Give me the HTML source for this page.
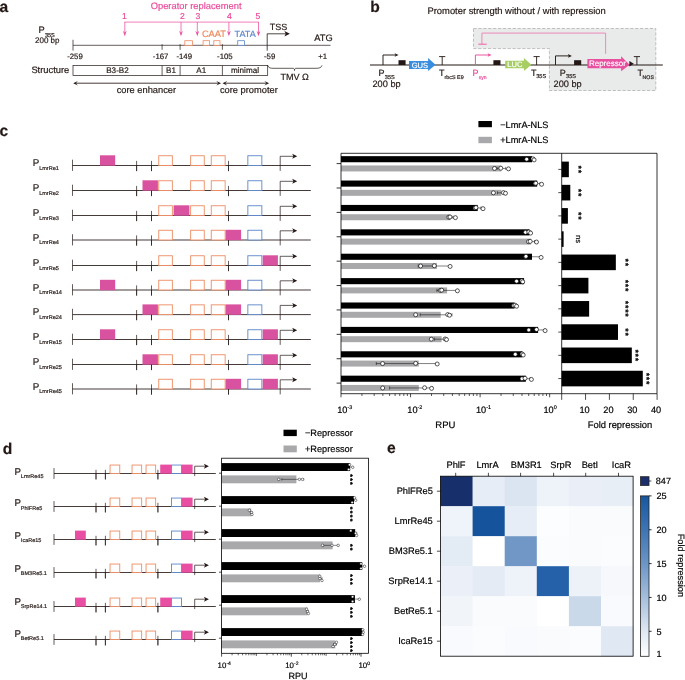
<!DOCTYPE html>
<html lang="en"><head><meta charset="utf-8"><title>Figure</title>
<style>html,body{margin:0;padding:0;background:#fff}svg{display:block}text{font-family:"Liberation Sans",Arial,Helvetica,sans-serif;text-rendering:geometricPrecision;fill:currentColor;stroke:currentColor;stroke-width:.18px}</style></head>
<body>
<svg width="685" height="680" viewBox="0 0 685 680">
<rect width="685" height="680" fill="#fff"/>
<text x="370.2" y="11.8" font-size="15.6" color="#231815" text-anchor="start" font-weight="bold" >b</text>
<text x="516.6" y="14" font-size="9.38" color="#231815" text-anchor="middle" font-weight="normal" >Promoter strength without / with repression</text>
<path d="M473.5 28.5H655.8V90.5H549.4V48.6H473.5Z" stroke="#9a9a9a" stroke-width="0.6" fill="#e9eaea" stroke-dasharray="3.2 1.7"/>
<line x1="370" y1="65" x2="662.8" y2="65" stroke="#231815" stroke-width="1.05" />
<path d="M481.9 44.2V33.1H605.6V53.8" stroke="#ee7fb6" stroke-width="0.9" fill="none" />
<line x1="478.3" y1="44.2" x2="486.7" y2="44.2" stroke="#ee5fa8" stroke-width="1.0" />
<path d="M383 65V55H396.2" stroke="#231815" stroke-width="0.95" fill="none" />
<polygon points="398.6,55 394.6,53.2 395.6,55 394.6,56.8" fill="#231815" stroke="none" stroke-width="0.5"/>
<path d="M475.4 65V55H489.2" stroke="#ea4c9c" stroke-width="0.95" fill="none" />
<polygon points="491.6,55 487.6,53.2 488.6,55 487.6,56.8" fill="#ea4c9c" stroke="none" stroke-width="0.5"/>
<path d="M555.5 65V55.9H569.5" stroke="#231815" stroke-width="0.95" fill="none" />
<polygon points="571.9,55.9 567.9,54.1 568.9,55.9 567.9,57.7" fill="#231815" stroke="none" stroke-width="0.5"/>
<rect x="398.5" y="60.2" width="7.1" height="4.8" fill="#231815" stroke="none" stroke-width="0.7" />
<rect x="493.4" y="60.2" width="7.1" height="4.8" fill="#231815" stroke="none" stroke-width="0.7" />
<rect x="574.1" y="60.2" width="7.1" height="4.8" fill="#231815" stroke="none" stroke-width="0.7" />
<polygon points="409,61.1 428.1,61.1 428.1,58 435.5,64.7 428.1,71 428.1,68.9 409,68.9" fill="#3a8ee0" stroke="none" stroke-width="0.5"/>
<text x="419.9" y="67.62" font-size="7.6" color="#fff" text-anchor="middle" font-weight="normal" >GUS</text>
<polygon points="505.2,60.7 523.9,60.7 523.9,58.1 531.4,64.7 523.9,70.9 523.9,68.3 505.2,68.3" fill="#a6ce62" stroke="none" stroke-width="0.5"/>
<text x="514.9" y="67.12" font-size="7.6" color="#fff" text-anchor="middle" font-weight="normal" >LUC</text>
<polygon points="587.4,58.9 621.1,58.9 621.1,56.3 629.6,64.7 621.1,71.2 621.1,68.3 587.4,68.3" fill="#e84f9f" stroke="none" stroke-width="0.5"/>
<text x="607.4" y="66.36" font-size="8.0" color="#fff" text-anchor="middle" font-weight="normal" >Repressor</text>
<polygon points="629.4,61 633.8,63.7 629.4,66.4" fill="#231815" stroke="none" stroke-width="0.5"/>
<line x1="442.2" y1="65" x2="442.2" y2="56.6" stroke="#231815" stroke-width="0.9" />
<line x1="439.1" y1="56.6" x2="445.3" y2="56.6" stroke="#231815" stroke-width="0.9" />
<line x1="536.6" y1="65" x2="536.6" y2="56.6" stroke="#231815" stroke-width="0.9" />
<line x1="533.5" y1="56.6" x2="539.7" y2="56.6" stroke="#231815" stroke-width="0.9" />
<line x1="636.9" y1="65" x2="636.9" y2="56.6" stroke="#231815" stroke-width="0.9" />
<line x1="633.8" y1="56.6" x2="640" y2="56.6" stroke="#231815" stroke-width="0.9" />
<text x="378.6" y="75.7" font-size="9.0" color="#231815">P<tspan font-size="5.6" dx="0.2" dy="2.8">35S</tspan></text>
<text x="372.5" y="86.8" font-size="9.2" color="#231815" text-anchor="start" font-weight="normal" >200 bp</text>
<text x="439" y="75.9" font-size="9.0" color="#231815">T<tspan font-size="5.4" dx="0.0" dy="2.8">rbcS E9</tspan></text>
<text x="472.6" y="75.7" font-size="9.0" color="#ea4c9c">P<tspan font-size="5.0" dx="0.2" dy="2.8">syn</tspan></text>
<text x="531" y="75.7" font-size="9.0" color="#231815">T<tspan font-size="5.6" dx="-0.3" dy="2.6">35S</tspan></text>
<text x="559.8" y="75.7" font-size="9.0" color="#231815">P<tspan font-size="5.6" dx="0.2" dy="2.6">35S</tspan></text>
<text x="553.6" y="86.9" font-size="9.2" color="#231815" text-anchor="start" font-weight="normal" >200 bp</text>
<text x="637.5" y="75.7" font-size="9.0" color="#231815">T<tspan font-size="5.2" dx="-0.4" dy="2.9">NOS</tspan></text>
<text x="-0.4" y="11.8" font-size="15.6" color="#231815" text-anchor="start" font-weight="bold" >a</text>
<text x="150.7" y="8.6" font-size="9.35" color="#ea4c9c" text-anchor="start" font-weight="normal" >Operator replacement</text>
<line x1="124.8" y1="22.1" x2="258.5" y2="22.1" stroke="#ea4c9c" stroke-width="0.7" />
<line x1="124.8" y1="21.75" x2="124.8" y2="33.45" stroke="#ea4c9c" stroke-width="0.75" />
<polygon points="124.8,36.2 122.9,30.7 124.8,32.79 126.7,30.7" fill="#ea4c9c" stroke="none" stroke-width="0.5"/>
<line x1="181" y1="22.1" x2="181" y2="33.45" stroke="#ea4c9c" stroke-width="0.75" />
<polygon points="181,36.2 179.1,30.7 181,32.79 182.9,30.7" fill="#ea4c9c" stroke="none" stroke-width="0.5"/>
<line x1="197.3" y1="22.1" x2="197.3" y2="33.45" stroke="#ea4c9c" stroke-width="0.75" />
<polygon points="197.3,36.2 195.4,30.7 197.3,32.79 199.2,30.7" fill="#ea4c9c" stroke="none" stroke-width="0.5"/>
<line x1="228.9" y1="22.1" x2="228.9" y2="33.45" stroke="#ea4c9c" stroke-width="0.75" />
<polygon points="228.9,36.2 227,30.7 228.9,32.79 230.8,30.7" fill="#ea4c9c" stroke="none" stroke-width="0.5"/>
<line x1="258.5" y1="21.75" x2="258.5" y2="33.45" stroke="#ea4c9c" stroke-width="0.75" />
<polygon points="258.5,36.2 256.6,30.7 258.5,32.79 260.4,30.7" fill="#ea4c9c" stroke="none" stroke-width="0.5"/>
<text x="124.3" y="19.3" font-size="8.6" color="#ea4c9c" text-anchor="middle" font-weight="normal" >1</text>
<text x="182.4" y="19.3" font-size="8.6" color="#ea4c9c" text-anchor="middle" font-weight="normal" >2</text>
<text x="197.9" y="19.3" font-size="8.6" color="#ea4c9c" text-anchor="middle" font-weight="normal" >3</text>
<text x="229.5" y="19.3" font-size="8.6" color="#ea4c9c" text-anchor="middle" font-weight="normal" >4</text>
<text x="257.9" y="19.3" font-size="8.6" color="#ea4c9c" text-anchor="middle" font-weight="normal" >5</text>
<text x="38.5" y="32.9" font-size="9.3" color="#231815">P<tspan font-size="5.6" dx="0.2" dy="3.9">35S</tspan></text>
<text x="35" y="42.6" font-size="8.0" color="#231815" text-anchor="start" font-weight="normal" >200 bp</text>
<line x1="73" y1="45.3" x2="330.5" y2="45.3" stroke="#231815" stroke-width="0.7" />
<line x1="73" y1="39.8" x2="73" y2="50.6" stroke="#231815" stroke-width="0.7" />
<line x1="162.1" y1="44.2" x2="162.1" y2="49.8" stroke="#231815" stroke-width="0.7" />
<line x1="180.1" y1="44.2" x2="180.1" y2="49.8" stroke="#231815" stroke-width="0.7" />
<line x1="222.4" y1="44.2" x2="222.4" y2="49.8" stroke="#231815" stroke-width="0.7" />
<rect x="184.8" y="40.7" width="7.6" height="4.6" fill="#fff" stroke="#ee8c62" stroke-width="0.8" />
<rect x="203.1" y="40.7" width="6.5" height="4.6" fill="#fff" stroke="#ee8c62" stroke-width="0.8" />
<rect x="213.8" y="40.7" width="6.2" height="4.6" fill="#fff" stroke="#ee8c62" stroke-width="0.8" />
<rect x="237.7" y="40.7" width="6.9" height="4.6" fill="#fff" stroke="#5b86c9" stroke-width="0.8" />
<text x="201.9" y="36.5" font-size="9.3" color="#ee8c62" text-anchor="start" font-weight="normal" >CAAT</text>
<text x="234.5" y="36.5" font-size="9.1" color="#5b86c9" text-anchor="start" font-weight="normal" >TATA</text>
<path d="M267.2 50.7V33.8H286.6" stroke="#231815" stroke-width="0.8" fill="none" />
<polygon points="289.9,33.8 284.4,31.1 285.77,33.8 284.4,36.5" fill="#231815" stroke="none" stroke-width="0.5"/>
<text x="269.8" y="30.4" font-size="9.0" color="#231815" text-anchor="start" font-weight="normal" >TSS</text>
<text x="314.3" y="40.9" font-size="9.3" color="#231815" text-anchor="start" font-weight="normal" >ATG</text>
<text x="75" y="59" font-size="7.8" color="#231815" text-anchor="middle" font-weight="normal" >-259</text>
<text x="160.6" y="59" font-size="7.8" color="#231815" text-anchor="middle" font-weight="normal" >-167</text>
<text x="184.2" y="59" font-size="7.8" color="#231815" text-anchor="middle" font-weight="normal" >-149</text>
<text x="224.9" y="59" font-size="7.8" color="#231815" text-anchor="middle" font-weight="normal" >-105</text>
<text x="269.6" y="59" font-size="7.8" color="#231815" text-anchor="middle" font-weight="normal" >-59</text>
<text x="322.6" y="59" font-size="7.8" color="#231815" text-anchor="middle" font-weight="normal" >+1</text>
<text x="31.4" y="73.3" font-size="9.35" color="#231815" text-anchor="start" font-weight="normal" >Structure</text>
<rect x="73" y="65.6" width="194.7" height="9.9" fill="#fff" stroke="#231815" stroke-width="0.7" />
<line x1="162.1" y1="65.6" x2="162.1" y2="75.5" stroke="#231815" stroke-width="0.7" />
<line x1="180.1" y1="65.6" x2="180.1" y2="75.5" stroke="#231815" stroke-width="0.7" />
<line x1="222.4" y1="65.6" x2="222.4" y2="75.5" stroke="#231815" stroke-width="0.7" />
<text x="117.5" y="73.2" font-size="8.15" color="#231815" text-anchor="middle" font-weight="normal" >B3-B2</text>
<text x="171.1" y="73.2" font-size="8.15" color="#231815" text-anchor="middle" font-weight="normal" >B1</text>
<text x="201.2" y="73.2" font-size="8.15" color="#231815" text-anchor="middle" font-weight="normal" >A1</text>
<text x="245" y="73.2" font-size="8.15" color="#231815" text-anchor="middle" font-weight="normal" >minimal</text>
<line x1="75.55" y1="83.2" x2="218.65" y2="83.2" stroke="#231815" stroke-width="0.85" />
<polygon points="221,83.2 216.3,81 218.41,83.2 216.3,85.4" fill="#231815" stroke="none" stroke-width="0.5"/>
<polygon points="73.2,83.2 77.9,81 75.78,83.2 77.9,85.4" fill="#231815" stroke="none" stroke-width="0.5"/>
<line x1="224.85" y1="83.2" x2="266.75" y2="83.2" stroke="#231815" stroke-width="0.85" />
<polygon points="269.1,83.2 264.4,81 266.52,83.2 264.4,85.4" fill="#231815" stroke="none" stroke-width="0.5"/>
<polygon points="222.5,83.2 227.2,81 225.09,83.2 227.2,85.4" fill="#231815" stroke="none" stroke-width="0.5"/>
<text x="116.7" y="92.5" font-size="9.3" color="#231815" text-anchor="start" font-weight="normal" >core enhancer</text>
<text x="219.9" y="92.5" font-size="9.3" color="#231815" text-anchor="start" font-weight="normal" >core promoter</text>
<path d="M267.7 65.4C268.6 68.3 271 68.3 274 68.3H293C294 68.3 294.5 69 294.5 70.5C294.5 69 295 68.3 296 68.3H316C319.5 68.3 321.3 67.6 322 65.4" stroke="#231815" stroke-width="0.7" fill="none" />
<text x="280.4" y="80.4" font-size="9.1" color="#231815" text-anchor="start" font-weight="normal" >TMV Ω</text>
<text x="-0.4" y="136.3" font-size="15.6" color="#231815" text-anchor="start" font-weight="bold" >c</text>
<line x1="72.5" y1="165.5" x2="310.8" y2="165.5" stroke="#231815" stroke-width="0.85" />
<line x1="72.5" y1="159.7" x2="72.5" y2="170.9" stroke="#231815" stroke-width="0.7" />
<line x1="136.6" y1="160.9" x2="136.6" y2="171.1" stroke="#231815" stroke-width="0.7" />
<line x1="151.5" y1="160.9" x2="151.5" y2="171.1" stroke="#231815" stroke-width="0.7" />
<line x1="228.5" y1="160.9" x2="228.5" y2="171.1" stroke="#231815" stroke-width="0.7" />
<rect x="158.75" y="155.75" width="13.6" height="9.75" fill="#fff" stroke="#ee8c62" stroke-width="0.9" />
<rect x="190.65" y="155.75" width="13.6" height="9.75" fill="#fff" stroke="#ee8c62" stroke-width="0.9" />
<rect x="211.25" y="155.75" width="13.9" height="9.75" fill="#fff" stroke="#ee8c62" stroke-width="0.9" />
<rect x="247.85" y="155.75" width="14" height="9.75" fill="#fff" stroke="#5b86c9" stroke-width="0.9" />
<rect x="100" y="155.3" width="15.2" height="10.4" fill="#d9529f" stroke="none" stroke-width="0.7" />
<line x1="136.6" y1="165.5" x2="136.6" y2="171.1" stroke="#231815" stroke-width="0.7" />
<line x1="151.5" y1="165.5" x2="151.5" y2="171.1" stroke="#231815" stroke-width="0.7" />
<line x1="228.5" y1="165.5" x2="228.5" y2="171.1" stroke="#231815" stroke-width="0.7" />
<path d="M280.2 170.9V156.3H294.2" stroke="#231815" stroke-width="0.7" fill="none" />
<polygon points="297.2,156.3 292.2,153.8 293.45,156.3 292.2,158.8" fill="#231815" stroke="none" stroke-width="0.5"/>
<text x="32.8" y="166.25" font-size="9.8" color="#231815">P<tspan font-size="5.55" dx="-0.2" dy="3.25">LmrRe1</tspan></text>
<line x1="72.5" y1="190.5" x2="310.8" y2="190.5" stroke="#231815" stroke-width="0.85" />
<line x1="72.5" y1="184.7" x2="72.5" y2="195.9" stroke="#231815" stroke-width="0.7" />
<line x1="136.6" y1="185.9" x2="136.6" y2="196.1" stroke="#231815" stroke-width="0.7" />
<line x1="151.5" y1="185.9" x2="151.5" y2="196.1" stroke="#231815" stroke-width="0.7" />
<line x1="228.5" y1="185.9" x2="228.5" y2="196.1" stroke="#231815" stroke-width="0.7" />
<rect x="158.75" y="180.75" width="13.6" height="9.75" fill="#fff" stroke="#ee8c62" stroke-width="0.9" />
<rect x="190.65" y="180.75" width="13.6" height="9.75" fill="#fff" stroke="#ee8c62" stroke-width="0.9" />
<rect x="211.25" y="180.75" width="13.9" height="9.75" fill="#fff" stroke="#ee8c62" stroke-width="0.9" />
<rect x="247.85" y="180.75" width="14" height="9.75" fill="#fff" stroke="#5b86c9" stroke-width="0.9" />
<rect x="142.5" y="180.3" width="15.4" height="10.4" fill="#d9529f" stroke="none" stroke-width="0.7" />
<line x1="136.6" y1="190.5" x2="136.6" y2="196.1" stroke="#231815" stroke-width="0.7" />
<line x1="151.5" y1="190.5" x2="151.5" y2="196.1" stroke="#231815" stroke-width="0.7" />
<line x1="228.5" y1="190.5" x2="228.5" y2="196.1" stroke="#231815" stroke-width="0.7" />
<path d="M280.2 195.9V181.3H294.2" stroke="#231815" stroke-width="0.7" fill="none" />
<polygon points="297.2,181.3 292.2,178.8 293.45,181.3 292.2,183.8" fill="#231815" stroke="none" stroke-width="0.5"/>
<text x="32.8" y="191.25" font-size="9.8" color="#231815">P<tspan font-size="5.55" dx="-0.2" dy="3.25">LmrRe2</tspan></text>
<line x1="72.5" y1="215.5" x2="310.8" y2="215.5" stroke="#231815" stroke-width="0.85" />
<line x1="72.5" y1="209.7" x2="72.5" y2="220.9" stroke="#231815" stroke-width="0.7" />
<line x1="136.6" y1="210.9" x2="136.6" y2="221.1" stroke="#231815" stroke-width="0.7" />
<line x1="151.5" y1="210.9" x2="151.5" y2="221.1" stroke="#231815" stroke-width="0.7" />
<line x1="228.5" y1="210.9" x2="228.5" y2="221.1" stroke="#231815" stroke-width="0.7" />
<rect x="158.75" y="205.75" width="13.6" height="9.75" fill="#fff" stroke="#ee8c62" stroke-width="0.9" />
<rect x="190.65" y="205.75" width="13.6" height="9.75" fill="#fff" stroke="#ee8c62" stroke-width="0.9" />
<rect x="211.25" y="205.75" width="13.9" height="9.75" fill="#fff" stroke="#ee8c62" stroke-width="0.9" />
<rect x="247.85" y="205.75" width="14" height="9.75" fill="#fff" stroke="#5b86c9" stroke-width="0.9" />
<rect x="173.6" y="205.3" width="15.8" height="10.4" fill="#d9529f" stroke="none" stroke-width="0.7" />
<line x1="136.6" y1="215.5" x2="136.6" y2="221.1" stroke="#231815" stroke-width="0.7" />
<line x1="151.5" y1="215.5" x2="151.5" y2="221.1" stroke="#231815" stroke-width="0.7" />
<line x1="228.5" y1="215.5" x2="228.5" y2="221.1" stroke="#231815" stroke-width="0.7" />
<path d="M280.2 220.9V206.3H294.2" stroke="#231815" stroke-width="0.7" fill="none" />
<polygon points="297.2,206.3 292.2,203.8 293.45,206.3 292.2,208.8" fill="#231815" stroke="none" stroke-width="0.5"/>
<text x="32.8" y="216.25" font-size="9.8" color="#231815">P<tspan font-size="5.55" dx="-0.2" dy="3.25">LmrRe3</tspan></text>
<line x1="72.5" y1="240" x2="310.8" y2="240" stroke="#231815" stroke-width="0.85" />
<line x1="72.5" y1="234.2" x2="72.5" y2="245.4" stroke="#231815" stroke-width="0.7" />
<line x1="136.6" y1="235.4" x2="136.6" y2="245.6" stroke="#231815" stroke-width="0.7" />
<line x1="151.5" y1="235.4" x2="151.5" y2="245.6" stroke="#231815" stroke-width="0.7" />
<line x1="228.5" y1="235.4" x2="228.5" y2="245.6" stroke="#231815" stroke-width="0.7" />
<rect x="158.75" y="230.25" width="13.6" height="9.75" fill="#fff" stroke="#ee8c62" stroke-width="0.9" />
<rect x="190.65" y="230.25" width="13.6" height="9.75" fill="#fff" stroke="#ee8c62" stroke-width="0.9" />
<rect x="211.25" y="230.25" width="13.9" height="9.75" fill="#fff" stroke="#ee8c62" stroke-width="0.9" />
<rect x="247.85" y="230.25" width="14" height="9.75" fill="#fff" stroke="#5b86c9" stroke-width="0.9" />
<rect x="225.7" y="229.8" width="15.4" height="10.4" fill="#d9529f" stroke="none" stroke-width="0.7" />
<line x1="136.6" y1="240" x2="136.6" y2="245.6" stroke="#231815" stroke-width="0.7" />
<line x1="151.5" y1="240" x2="151.5" y2="245.6" stroke="#231815" stroke-width="0.7" />
<line x1="228.5" y1="240" x2="228.5" y2="245.6" stroke="#231815" stroke-width="0.7" />
<path d="M280.2 245.4V230.8H294.2" stroke="#231815" stroke-width="0.7" fill="none" />
<polygon points="297.2,230.8 292.2,228.3 293.45,230.8 292.2,233.3" fill="#231815" stroke="none" stroke-width="0.5"/>
<text x="32.8" y="240.75" font-size="9.8" color="#231815">P<tspan font-size="5.55" dx="-0.2" dy="3.25">LmrRe4</tspan></text>
<line x1="72.5" y1="265.5" x2="310.8" y2="265.5" stroke="#231815" stroke-width="0.85" />
<line x1="72.5" y1="259.7" x2="72.5" y2="270.9" stroke="#231815" stroke-width="0.7" />
<line x1="136.6" y1="260.9" x2="136.6" y2="271.1" stroke="#231815" stroke-width="0.7" />
<line x1="151.5" y1="260.9" x2="151.5" y2="271.1" stroke="#231815" stroke-width="0.7" />
<line x1="228.5" y1="260.9" x2="228.5" y2="271.1" stroke="#231815" stroke-width="0.7" />
<rect x="158.75" y="255.75" width="13.6" height="9.75" fill="#fff" stroke="#ee8c62" stroke-width="0.9" />
<rect x="190.65" y="255.75" width="13.6" height="9.75" fill="#fff" stroke="#ee8c62" stroke-width="0.9" />
<rect x="211.25" y="255.75" width="13.9" height="9.75" fill="#fff" stroke="#ee8c62" stroke-width="0.9" />
<rect x="247.85" y="255.75" width="14" height="9.75" fill="#fff" stroke="#5b86c9" stroke-width="0.9" />
<rect x="262.7" y="255.3" width="15.2" height="10.4" fill="#d9529f" stroke="none" stroke-width="0.7" />
<line x1="136.6" y1="265.5" x2="136.6" y2="271.1" stroke="#231815" stroke-width="0.7" />
<line x1="151.5" y1="265.5" x2="151.5" y2="271.1" stroke="#231815" stroke-width="0.7" />
<line x1="228.5" y1="265.5" x2="228.5" y2="271.1" stroke="#231815" stroke-width="0.7" />
<path d="M280.2 270.9V256.3H294.2" stroke="#231815" stroke-width="0.7" fill="none" />
<polygon points="297.2,256.3 292.2,253.8 293.45,256.3 292.2,258.8" fill="#231815" stroke="none" stroke-width="0.5"/>
<text x="32.8" y="266.25" font-size="9.8" color="#231815">P<tspan font-size="5.55" dx="-0.2" dy="3.25">LmrRe5</tspan></text>
<line x1="72.5" y1="290" x2="310.8" y2="290" stroke="#231815" stroke-width="0.85" />
<line x1="72.5" y1="284.2" x2="72.5" y2="295.4" stroke="#231815" stroke-width="0.7" />
<line x1="136.6" y1="285.4" x2="136.6" y2="295.6" stroke="#231815" stroke-width="0.7" />
<line x1="151.5" y1="285.4" x2="151.5" y2="295.6" stroke="#231815" stroke-width="0.7" />
<line x1="228.5" y1="285.4" x2="228.5" y2="295.6" stroke="#231815" stroke-width="0.7" />
<rect x="158.75" y="280.25" width="13.6" height="9.75" fill="#fff" stroke="#ee8c62" stroke-width="0.9" />
<rect x="190.65" y="280.25" width="13.6" height="9.75" fill="#fff" stroke="#ee8c62" stroke-width="0.9" />
<rect x="211.25" y="280.25" width="13.9" height="9.75" fill="#fff" stroke="#ee8c62" stroke-width="0.9" />
<rect x="247.85" y="280.25" width="14" height="9.75" fill="#fff" stroke="#5b86c9" stroke-width="0.9" />
<rect x="100" y="279.8" width="15.2" height="10.4" fill="#d9529f" stroke="none" stroke-width="0.7" />
<rect x="225.7" y="279.8" width="15.4" height="10.4" fill="#d9529f" stroke="none" stroke-width="0.7" />
<line x1="136.6" y1="290" x2="136.6" y2="295.6" stroke="#231815" stroke-width="0.7" />
<line x1="151.5" y1="290" x2="151.5" y2="295.6" stroke="#231815" stroke-width="0.7" />
<line x1="228.5" y1="290" x2="228.5" y2="295.6" stroke="#231815" stroke-width="0.7" />
<path d="M280.2 295.4V280.8H294.2" stroke="#231815" stroke-width="0.7" fill="none" />
<polygon points="297.2,280.8 292.2,278.3 293.45,280.8 292.2,283.3" fill="#231815" stroke="none" stroke-width="0.5"/>
<text x="32.8" y="290.75" font-size="9.8" color="#231815">P<tspan font-size="5.55" dx="-0.2" dy="3.25">LmrRe14</tspan></text>
<line x1="72.5" y1="314.6" x2="310.8" y2="314.6" stroke="#231815" stroke-width="0.85" />
<line x1="72.5" y1="308.8" x2="72.5" y2="320" stroke="#231815" stroke-width="0.7" />
<line x1="136.6" y1="310" x2="136.6" y2="320.2" stroke="#231815" stroke-width="0.7" />
<line x1="151.5" y1="310" x2="151.5" y2="320.2" stroke="#231815" stroke-width="0.7" />
<line x1="228.5" y1="310" x2="228.5" y2="320.2" stroke="#231815" stroke-width="0.7" />
<rect x="158.75" y="304.85" width="13.6" height="9.75" fill="#fff" stroke="#ee8c62" stroke-width="0.9" />
<rect x="190.65" y="304.85" width="13.6" height="9.75" fill="#fff" stroke="#ee8c62" stroke-width="0.9" />
<rect x="211.25" y="304.85" width="13.9" height="9.75" fill="#fff" stroke="#ee8c62" stroke-width="0.9" />
<rect x="247.85" y="304.85" width="14" height="9.75" fill="#fff" stroke="#5b86c9" stroke-width="0.9" />
<rect x="142.5" y="304.4" width="15.4" height="10.4" fill="#d9529f" stroke="none" stroke-width="0.7" />
<rect x="225.7" y="304.4" width="15.4" height="10.4" fill="#d9529f" stroke="none" stroke-width="0.7" />
<line x1="136.6" y1="314.6" x2="136.6" y2="320.2" stroke="#231815" stroke-width="0.7" />
<line x1="151.5" y1="314.6" x2="151.5" y2="320.2" stroke="#231815" stroke-width="0.7" />
<line x1="228.5" y1="314.6" x2="228.5" y2="320.2" stroke="#231815" stroke-width="0.7" />
<path d="M280.2 320V305.4H294.2" stroke="#231815" stroke-width="0.7" fill="none" />
<polygon points="297.2,305.4 292.2,302.9 293.45,305.4 292.2,307.9" fill="#231815" stroke="none" stroke-width="0.5"/>
<text x="32.8" y="315.35" font-size="9.8" color="#231815">P<tspan font-size="5.55" dx="-0.2" dy="3.25">LmrRe24</tspan></text>
<line x1="72.5" y1="339.5" x2="310.8" y2="339.5" stroke="#231815" stroke-width="0.85" />
<line x1="72.5" y1="333.7" x2="72.5" y2="344.9" stroke="#231815" stroke-width="0.7" />
<line x1="136.6" y1="334.9" x2="136.6" y2="345.1" stroke="#231815" stroke-width="0.7" />
<line x1="151.5" y1="334.9" x2="151.5" y2="345.1" stroke="#231815" stroke-width="0.7" />
<line x1="228.5" y1="334.9" x2="228.5" y2="345.1" stroke="#231815" stroke-width="0.7" />
<rect x="158.75" y="329.75" width="13.6" height="9.75" fill="#fff" stroke="#ee8c62" stroke-width="0.9" />
<rect x="190.65" y="329.75" width="13.6" height="9.75" fill="#fff" stroke="#ee8c62" stroke-width="0.9" />
<rect x="211.25" y="329.75" width="13.9" height="9.75" fill="#fff" stroke="#ee8c62" stroke-width="0.9" />
<rect x="247.85" y="329.75" width="14" height="9.75" fill="#fff" stroke="#5b86c9" stroke-width="0.9" />
<rect x="100" y="329.3" width="15.2" height="10.4" fill="#d9529f" stroke="none" stroke-width="0.7" />
<rect x="262.7" y="329.3" width="15.2" height="10.4" fill="#d9529f" stroke="none" stroke-width="0.7" />
<line x1="136.6" y1="339.5" x2="136.6" y2="345.1" stroke="#231815" stroke-width="0.7" />
<line x1="151.5" y1="339.5" x2="151.5" y2="345.1" stroke="#231815" stroke-width="0.7" />
<line x1="228.5" y1="339.5" x2="228.5" y2="345.1" stroke="#231815" stroke-width="0.7" />
<path d="M280.2 344.9V330.3H294.2" stroke="#231815" stroke-width="0.7" fill="none" />
<polygon points="297.2,330.3 292.2,327.8 293.45,330.3 292.2,332.8" fill="#231815" stroke="none" stroke-width="0.5"/>
<text x="32.8" y="340.25" font-size="9.8" color="#231815">P<tspan font-size="5.55" dx="-0.2" dy="3.25">LmrRe15</tspan></text>
<line x1="72.5" y1="364.5" x2="310.8" y2="364.5" stroke="#231815" stroke-width="0.85" />
<line x1="72.5" y1="358.7" x2="72.5" y2="369.9" stroke="#231815" stroke-width="0.7" />
<line x1="136.6" y1="359.9" x2="136.6" y2="370.1" stroke="#231815" stroke-width="0.7" />
<line x1="151.5" y1="359.9" x2="151.5" y2="370.1" stroke="#231815" stroke-width="0.7" />
<line x1="228.5" y1="359.9" x2="228.5" y2="370.1" stroke="#231815" stroke-width="0.7" />
<rect x="158.75" y="354.75" width="13.6" height="9.75" fill="#fff" stroke="#ee8c62" stroke-width="0.9" />
<rect x="190.65" y="354.75" width="13.6" height="9.75" fill="#fff" stroke="#ee8c62" stroke-width="0.9" />
<rect x="211.25" y="354.75" width="13.9" height="9.75" fill="#fff" stroke="#ee8c62" stroke-width="0.9" />
<rect x="247.85" y="354.75" width="14" height="9.75" fill="#fff" stroke="#5b86c9" stroke-width="0.9" />
<rect x="142.5" y="354.3" width="15.4" height="10.4" fill="#d9529f" stroke="none" stroke-width="0.7" />
<rect x="262.7" y="354.3" width="15.2" height="10.4" fill="#d9529f" stroke="none" stroke-width="0.7" />
<line x1="136.6" y1="364.5" x2="136.6" y2="370.1" stroke="#231815" stroke-width="0.7" />
<line x1="151.5" y1="364.5" x2="151.5" y2="370.1" stroke="#231815" stroke-width="0.7" />
<line x1="228.5" y1="364.5" x2="228.5" y2="370.1" stroke="#231815" stroke-width="0.7" />
<path d="M280.2 369.9V355.3H294.2" stroke="#231815" stroke-width="0.7" fill="none" />
<polygon points="297.2,355.3 292.2,352.8 293.45,355.3 292.2,357.8" fill="#231815" stroke="none" stroke-width="0.5"/>
<text x="32.8" y="365.25" font-size="9.8" color="#231815">P<tspan font-size="5.55" dx="-0.2" dy="3.25">LmrRe25</tspan></text>
<line x1="72.5" y1="389" x2="310.8" y2="389" stroke="#231815" stroke-width="0.85" />
<line x1="72.5" y1="383.2" x2="72.5" y2="394.4" stroke="#231815" stroke-width="0.7" />
<line x1="136.6" y1="384.4" x2="136.6" y2="394.6" stroke="#231815" stroke-width="0.7" />
<line x1="151.5" y1="384.4" x2="151.5" y2="394.6" stroke="#231815" stroke-width="0.7" />
<line x1="228.5" y1="384.4" x2="228.5" y2="394.6" stroke="#231815" stroke-width="0.7" />
<rect x="158.75" y="379.25" width="13.6" height="9.75" fill="#fff" stroke="#ee8c62" stroke-width="0.9" />
<rect x="190.65" y="379.25" width="13.6" height="9.75" fill="#fff" stroke="#ee8c62" stroke-width="0.9" />
<rect x="211.25" y="379.25" width="13.9" height="9.75" fill="#fff" stroke="#ee8c62" stroke-width="0.9" />
<rect x="247.85" y="379.25" width="14" height="9.75" fill="#fff" stroke="#5b86c9" stroke-width="0.9" />
<rect x="225.7" y="378.8" width="15.4" height="10.4" fill="#d9529f" stroke="none" stroke-width="0.7" />
<rect x="262.7" y="378.8" width="15.2" height="10.4" fill="#d9529f" stroke="none" stroke-width="0.7" />
<line x1="136.6" y1="389" x2="136.6" y2="394.6" stroke="#231815" stroke-width="0.7" />
<line x1="151.5" y1="389" x2="151.5" y2="394.6" stroke="#231815" stroke-width="0.7" />
<line x1="228.5" y1="389" x2="228.5" y2="394.6" stroke="#231815" stroke-width="0.7" />
<path d="M280.2 394.4V379.8H294.2" stroke="#231815" stroke-width="0.7" fill="none" />
<polygon points="297.2,379.8 292.2,377.3 293.45,379.8 292.2,382.3" fill="#231815" stroke="none" stroke-width="0.5"/>
<text x="32.8" y="389.75" font-size="9.8" color="#231815">P<tspan font-size="5.55" dx="-0.2" dy="3.25">LmrRe45</tspan></text>
<rect x="478.4" y="121" width="13.5" height="6.2" fill="#000" stroke="none" stroke-width="0.7" />
<rect x="478.4" y="136.8" width="13.5" height="6.4" fill="#a9a9ac" stroke="none" stroke-width="0.7" />
<text x="500.2" y="127.5" font-size="9.2" color="#000" text-anchor="start" font-weight="normal" >−LmrA-NLS</text>
<text x="500.2" y="143.4" font-size="9.2" color="#000" text-anchor="start" font-weight="normal" >+LmrA-NLS</text>
<rect x="341" y="156.15" width="191" height="6.1" fill="#000" stroke="none" stroke-width="0.7" />
<rect x="341" y="165.45" width="160.3" height="6" fill="#a9a9ac" stroke="none" stroke-width="0.7" />
<line x1="526" y1="159.2" x2="534" y2="159.2" stroke="#000" stroke-width="0.5" />
<line x1="526" y1="157.6" x2="526" y2="160.8" stroke="#000" stroke-width="0.5" />
<line x1="534" y1="157.6" x2="534" y2="160.8" stroke="#000" stroke-width="0.5" />
<line x1="497" y1="168.45" x2="505.7" y2="168.45" stroke="#000" stroke-width="0.5" />
<line x1="497" y1="166.85" x2="497" y2="170.05" stroke="#000" stroke-width="0.5" />
<line x1="505.7" y1="166.85" x2="505.7" y2="170.05" stroke="#000" stroke-width="0.5" />
<circle cx="526.7" cy="159.2" r="2.0" fill="#fff" stroke="#000" stroke-width="0.65"/>
<circle cx="532.9" cy="158.8" r="2.0" fill="#fff" stroke="#000" stroke-width="0.65"/>
<circle cx="534.1" cy="159.9" r="2.0" fill="#fff" stroke="#000" stroke-width="0.65"/>
<circle cx="494.5" cy="168.45" r="2.0" fill="#fff" stroke="#000" stroke-width="0.65"/>
<circle cx="500.8" cy="168.21" r="2.0" fill="#fff" stroke="#000" stroke-width="0.65"/>
<circle cx="508.5" cy="168.87" r="2.0" fill="#fff" stroke="#000" stroke-width="0.65"/>
<line x1="336.6" y1="163.6" x2="341" y2="163.6" stroke="#000" stroke-width="0.8" />
<rect x="341" y="180.54" width="196.2" height="6.1" fill="#000" stroke="none" stroke-width="0.7" />
<rect x="341" y="189.84" width="160.3" height="6" fill="#a9a9ac" stroke="none" stroke-width="0.7" />
<line x1="535" y1="183.59" x2="540" y2="183.59" stroke="#000" stroke-width="0.5" />
<line x1="535" y1="181.99" x2="535" y2="185.19" stroke="#000" stroke-width="0.5" />
<line x1="540" y1="181.99" x2="540" y2="185.19" stroke="#000" stroke-width="0.5" />
<line x1="497.5" y1="192.84" x2="504.5" y2="192.84" stroke="#000" stroke-width="0.5" />
<line x1="497.5" y1="191.24" x2="497.5" y2="194.44" stroke="#000" stroke-width="0.5" />
<line x1="504.5" y1="191.24" x2="504.5" y2="194.44" stroke="#000" stroke-width="0.5" />
<circle cx="535.2" cy="183.59" r="2.0" fill="#fff" stroke="#000" stroke-width="0.65"/>
<circle cx="535.8" cy="183.19" r="2.0" fill="#fff" stroke="#000" stroke-width="0.65"/>
<circle cx="541.6" cy="184.29" r="2.0" fill="#fff" stroke="#000" stroke-width="0.65"/>
<circle cx="493.4" cy="192.84" r="2.0" fill="#fff" stroke="#000" stroke-width="0.65"/>
<circle cx="503.4" cy="192.6" r="2.0" fill="#fff" stroke="#000" stroke-width="0.65"/>
<circle cx="505.5" cy="193.26" r="2.0" fill="#fff" stroke="#000" stroke-width="0.65"/>
<line x1="336.6" y1="187.99" x2="341" y2="187.99" stroke="#000" stroke-width="0.8" />
<rect x="341" y="204.93" width="136.7" height="6.1" fill="#000" stroke="none" stroke-width="0.7" />
<rect x="341" y="214.23" width="109.5" height="6" fill="#a9a9ac" stroke="none" stroke-width="0.7" />
<line x1="475" y1="207.98" x2="481" y2="207.98" stroke="#000" stroke-width="0.5" />
<line x1="475" y1="206.38" x2="475" y2="209.58" stroke="#000" stroke-width="0.5" />
<line x1="481" y1="206.38" x2="481" y2="209.58" stroke="#000" stroke-width="0.5" />
<line x1="449" y1="217.23" x2="453" y2="217.23" stroke="#000" stroke-width="0.5" />
<line x1="449" y1="215.63" x2="449" y2="218.83" stroke="#000" stroke-width="0.5" />
<line x1="453" y1="215.63" x2="453" y2="218.83" stroke="#000" stroke-width="0.5" />
<circle cx="475" cy="207.98" r="2.0" fill="#fff" stroke="#000" stroke-width="0.65"/>
<circle cx="476" cy="207.58" r="2.0" fill="#fff" stroke="#000" stroke-width="0.65"/>
<circle cx="483" cy="208.68" r="2.0" fill="#fff" stroke="#000" stroke-width="0.65"/>
<circle cx="448.8" cy="217.23" r="2.0" fill="#fff" stroke="#000" stroke-width="0.65"/>
<circle cx="450" cy="216.99" r="2.0" fill="#fff" stroke="#000" stroke-width="0.65"/>
<circle cx="455.4" cy="217.65" r="2.0" fill="#fff" stroke="#000" stroke-width="0.65"/>
<line x1="336.6" y1="212.38" x2="341" y2="212.38" stroke="#000" stroke-width="0.8" />
<rect x="341" y="229.32" width="188.4" height="6.1" fill="#000" stroke="none" stroke-width="0.7" />
<rect x="341" y="238.62" width="190.1" height="6" fill="#a9a9ac" stroke="none" stroke-width="0.7" />
<line x1="527" y1="232.37" x2="531" y2="232.37" stroke="#000" stroke-width="0.5" />
<line x1="527" y1="230.77" x2="527" y2="233.97" stroke="#000" stroke-width="0.5" />
<line x1="531" y1="230.77" x2="531" y2="233.97" stroke="#000" stroke-width="0.5" />
<line x1="528.5" y1="241.62" x2="534.5" y2="241.62" stroke="#000" stroke-width="0.5" />
<line x1="528.5" y1="240.02" x2="528.5" y2="243.22" stroke="#000" stroke-width="0.5" />
<line x1="534.5" y1="240.02" x2="534.5" y2="243.22" stroke="#000" stroke-width="0.5" />
<circle cx="525.5" cy="232.37" r="2.0" fill="#fff" stroke="#000" stroke-width="0.65"/>
<circle cx="528.8" cy="231.97" r="2.0" fill="#fff" stroke="#000" stroke-width="0.65"/>
<circle cx="530.6" cy="233.07" r="2.0" fill="#fff" stroke="#000" stroke-width="0.65"/>
<circle cx="528.5" cy="241.62" r="2.0" fill="#fff" stroke="#000" stroke-width="0.65"/>
<circle cx="530.2" cy="241.38" r="2.0" fill="#fff" stroke="#000" stroke-width="0.65"/>
<circle cx="536.5" cy="242.04" r="2.0" fill="#fff" stroke="#000" stroke-width="0.65"/>
<line x1="336.6" y1="236.77" x2="341" y2="236.77" stroke="#000" stroke-width="0.8" />
<rect x="341" y="253.71" width="191" height="6.1" fill="#000" stroke="none" stroke-width="0.7" />
<rect x="341" y="263.01" width="95.9" height="6" fill="#a9a9ac" stroke="none" stroke-width="0.7" />
<line x1="526" y1="256.76" x2="541.1" y2="256.76" stroke="#000" stroke-width="0.5" />
<line x1="526" y1="255.16" x2="526" y2="258.36" stroke="#000" stroke-width="0.5" />
<line x1="541.1" y1="255.16" x2="541.1" y2="258.36" stroke="#000" stroke-width="0.5" />
<line x1="418.2" y1="266.01" x2="450.1" y2="266.01" stroke="#000" stroke-width="0.5" />
<line x1="418.2" y1="264.41" x2="418.2" y2="267.61" stroke="#000" stroke-width="0.5" />
<line x1="450.1" y1="264.41" x2="450.1" y2="267.61" stroke="#000" stroke-width="0.5" />
<circle cx="525.6" cy="256.76" r="2.0" fill="#fff" stroke="#000" stroke-width="0.65"/>
<circle cx="526" cy="256.36" r="2.0" fill="#fff" stroke="#000" stroke-width="0.65"/>
<circle cx="541.1" cy="257.46" r="2.0" fill="#fff" stroke="#000" stroke-width="0.65"/>
<circle cx="420.6" cy="266.01" r="2.0" fill="#fff" stroke="#000" stroke-width="0.65"/>
<circle cx="434.3" cy="265.77" r="2.0" fill="#fff" stroke="#000" stroke-width="0.65"/>
<circle cx="450.1" cy="266.43" r="2.0" fill="#fff" stroke="#000" stroke-width="0.65"/>
<line x1="336.6" y1="261.16" x2="341" y2="261.16" stroke="#000" stroke-width="0.8" />
<rect x="341" y="278.1" width="183.1" height="6.1" fill="#000" stroke="none" stroke-width="0.7" />
<rect x="341" y="287.4" width="106.1" height="6" fill="#a9a9ac" stroke="none" stroke-width="0.7" />
<line x1="518" y1="281.15" x2="523" y2="281.15" stroke="#000" stroke-width="0.5" />
<line x1="518" y1="279.55" x2="518" y2="282.75" stroke="#000" stroke-width="0.5" />
<line x1="523" y1="279.55" x2="523" y2="282.75" stroke="#000" stroke-width="0.5" />
<line x1="436.9" y1="290.4" x2="457.4" y2="290.4" stroke="#000" stroke-width="0.5" />
<line x1="436.9" y1="288.8" x2="436.9" y2="292" stroke="#000" stroke-width="0.5" />
<line x1="457.4" y1="288.8" x2="457.4" y2="292" stroke="#000" stroke-width="0.5" />
<circle cx="516.6" cy="281.15" r="2.0" fill="#fff" stroke="#000" stroke-width="0.65"/>
<circle cx="521.8" cy="280.75" r="2.0" fill="#fff" stroke="#000" stroke-width="0.65"/>
<circle cx="522.7" cy="281.85" r="2.0" fill="#fff" stroke="#000" stroke-width="0.65"/>
<circle cx="440.4" cy="290.4" r="2.0" fill="#fff" stroke="#000" stroke-width="0.65"/>
<circle cx="441.7" cy="290.16" r="2.0" fill="#fff" stroke="#000" stroke-width="0.65"/>
<circle cx="457.4" cy="290.82" r="2.0" fill="#fff" stroke="#000" stroke-width="0.65"/>
<line x1="336.6" y1="285.55" x2="341" y2="285.55" stroke="#000" stroke-width="0.8" />
<rect x="341" y="302.49" width="173.5" height="6.1" fill="#000" stroke="none" stroke-width="0.7" />
<rect x="341" y="311.79" width="99.7" height="6" fill="#a9a9ac" stroke="none" stroke-width="0.7" />
<line x1="513" y1="305.54" x2="516" y2="305.54" stroke="#000" stroke-width="0.5" />
<line x1="513" y1="303.94" x2="513" y2="307.14" stroke="#000" stroke-width="0.5" />
<line x1="516" y1="303.94" x2="516" y2="307.14" stroke="#000" stroke-width="0.5" />
<line x1="420.2" y1="314.79" x2="452" y2="314.79" stroke="#000" stroke-width="0.5" />
<line x1="420.2" y1="313.19" x2="420.2" y2="316.39" stroke="#000" stroke-width="0.5" />
<line x1="452" y1="313.19" x2="452" y2="316.39" stroke="#000" stroke-width="0.5" />
<circle cx="513.6" cy="305.54" r="2.0" fill="#fff" stroke="#000" stroke-width="0.65"/>
<circle cx="515" cy="305.14" r="2.0" fill="#fff" stroke="#000" stroke-width="0.65"/>
<circle cx="516.6" cy="306.24" r="2.0" fill="#fff" stroke="#000" stroke-width="0.65"/>
<circle cx="415.7" cy="314.79" r="2.0" fill="#fff" stroke="#000" stroke-width="0.65"/>
<circle cx="447.7" cy="314.55" r="2.0" fill="#fff" stroke="#000" stroke-width="0.65"/>
<circle cx="449.5" cy="315.21" r="2.0" fill="#fff" stroke="#000" stroke-width="0.65"/>
<line x1="336.6" y1="309.94" x2="341" y2="309.94" stroke="#000" stroke-width="0.8" />
<rect x="341" y="326.88" width="197.1" height="6.1" fill="#000" stroke="none" stroke-width="0.7" />
<rect x="341" y="336.18" width="100.6" height="6" fill="#a9a9ac" stroke="none" stroke-width="0.7" />
<line x1="531" y1="329.93" x2="545" y2="329.93" stroke="#000" stroke-width="0.5" />
<line x1="531" y1="328.33" x2="531" y2="331.53" stroke="#000" stroke-width="0.5" />
<line x1="545" y1="328.33" x2="545" y2="331.53" stroke="#000" stroke-width="0.5" />
<line x1="434.6" y1="339.18" x2="447" y2="339.18" stroke="#000" stroke-width="0.5" />
<line x1="434.6" y1="337.58" x2="434.6" y2="340.78" stroke="#000" stroke-width="0.5" />
<line x1="447" y1="337.58" x2="447" y2="340.78" stroke="#000" stroke-width="0.5" />
<circle cx="528.8" cy="329.93" r="2.0" fill="#fff" stroke="#000" stroke-width="0.65"/>
<circle cx="536.5" cy="329.53" r="2.0" fill="#fff" stroke="#000" stroke-width="0.65"/>
<circle cx="545.1" cy="330.63" r="2.0" fill="#fff" stroke="#000" stroke-width="0.65"/>
<circle cx="431.3" cy="339.18" r="2.0" fill="#fff" stroke="#000" stroke-width="0.65"/>
<circle cx="445.1" cy="338.94" r="2.0" fill="#fff" stroke="#000" stroke-width="0.65"/>
<circle cx="446.5" cy="339.6" r="2.0" fill="#fff" stroke="#000" stroke-width="0.65"/>
<line x1="336.6" y1="334.33" x2="341" y2="334.33" stroke="#000" stroke-width="0.8" />
<rect x="341" y="351.27" width="181.3" height="6.1" fill="#000" stroke="none" stroke-width="0.7" />
<rect x="341" y="360.57" width="77.8" height="6" fill="#a9a9ac" stroke="none" stroke-width="0.7" />
<line x1="517" y1="354.32" x2="524" y2="354.32" stroke="#000" stroke-width="0.5" />
<line x1="517" y1="352.72" x2="517" y2="355.92" stroke="#000" stroke-width="0.5" />
<line x1="524" y1="352.72" x2="524" y2="355.92" stroke="#000" stroke-width="0.5" />
<line x1="376.3" y1="363.57" x2="437.2" y2="363.57" stroke="#000" stroke-width="0.5" />
<line x1="376.3" y1="361.97" x2="376.3" y2="365.17" stroke="#000" stroke-width="0.5" />
<line x1="437.2" y1="361.97" x2="437.2" y2="365.17" stroke="#000" stroke-width="0.5" />
<circle cx="515.3" cy="354.32" r="2.0" fill="#fff" stroke="#000" stroke-width="0.65"/>
<circle cx="522" cy="353.92" r="2.0" fill="#fff" stroke="#000" stroke-width="0.65"/>
<circle cx="523.2" cy="355.02" r="2.0" fill="#fff" stroke="#000" stroke-width="0.65"/>
<circle cx="382.6" cy="363.57" r="2.0" fill="#fff" stroke="#000" stroke-width="0.65"/>
<circle cx="415.7" cy="363.33" r="2.0" fill="#fff" stroke="#000" stroke-width="0.65"/>
<circle cx="437.2" cy="363.99" r="2.0" fill="#fff" stroke="#000" stroke-width="0.65"/>
<line x1="336.6" y1="358.72" x2="341" y2="358.72" stroke="#000" stroke-width="0.8" />
<rect x="341" y="375.66" width="184.8" height="6.1" fill="#000" stroke="none" stroke-width="0.7" />
<rect x="341" y="384.96" width="77.8" height="6" fill="#a9a9ac" stroke="none" stroke-width="0.7" />
<line x1="521" y1="378.71" x2="530" y2="378.71" stroke="#000" stroke-width="0.5" />
<line x1="521" y1="377.11" x2="521" y2="380.31" stroke="#000" stroke-width="0.5" />
<line x1="530" y1="377.11" x2="530" y2="380.31" stroke="#000" stroke-width="0.5" />
<line x1="389.6" y1="387.96" x2="432" y2="387.96" stroke="#000" stroke-width="0.5" />
<line x1="389.6" y1="386.36" x2="389.6" y2="389.56" stroke="#000" stroke-width="0.5" />
<line x1="432" y1="386.36" x2="432" y2="389.56" stroke="#000" stroke-width="0.5" />
<circle cx="522" cy="378.71" r="2.0" fill="#fff" stroke="#000" stroke-width="0.65"/>
<circle cx="525" cy="378.31" r="2.0" fill="#fff" stroke="#000" stroke-width="0.65"/>
<circle cx="531.4" cy="379.41" r="2.0" fill="#fff" stroke="#000" stroke-width="0.65"/>
<circle cx="382.7" cy="387.96" r="2.0" fill="#fff" stroke="#000" stroke-width="0.65"/>
<circle cx="424.6" cy="387.72" r="2.0" fill="#fff" stroke="#000" stroke-width="0.65"/>
<circle cx="431.6" cy="388.38" r="2.0" fill="#fff" stroke="#000" stroke-width="0.65"/>
<line x1="336.6" y1="383.11" x2="341" y2="383.11" stroke="#000" stroke-width="0.8" />
<path d="M341.0 393.7V153.3H657.0V393.7" stroke="#000" stroke-width="0.8" fill="none" />
<line x1="341" y1="393.7" x2="657" y2="393.7" stroke="#000" stroke-width="0.8" />
<line x1="561.7" y1="153.3" x2="561.7" y2="393.7" stroke="#000" stroke-width="0.8" />
<line x1="341" y1="393.7" x2="341" y2="397.3" stroke="#000" stroke-width="0.7" />
<line x1="361.94" y1="393.7" x2="361.94" y2="396" stroke="#000" stroke-width="0.65" />
<line x1="374.18" y1="393.7" x2="374.18" y2="396" stroke="#000" stroke-width="0.65" />
<line x1="382.87" y1="393.7" x2="382.87" y2="396" stroke="#000" stroke-width="0.65" />
<line x1="389.61" y1="393.7" x2="389.61" y2="396" stroke="#000" stroke-width="0.65" />
<line x1="395.12" y1="393.7" x2="395.12" y2="396" stroke="#000" stroke-width="0.65" />
<line x1="399.78" y1="393.7" x2="399.78" y2="396" stroke="#000" stroke-width="0.65" />
<line x1="403.81" y1="393.7" x2="403.81" y2="396" stroke="#000" stroke-width="0.65" />
<line x1="407.37" y1="393.7" x2="407.37" y2="396" stroke="#000" stroke-width="0.65" />
<line x1="410.55" y1="393.7" x2="410.55" y2="397.3" stroke="#000" stroke-width="0.7" />
<line x1="431.49" y1="393.7" x2="431.49" y2="396" stroke="#000" stroke-width="0.65" />
<line x1="443.73" y1="393.7" x2="443.73" y2="396" stroke="#000" stroke-width="0.65" />
<line x1="452.42" y1="393.7" x2="452.42" y2="396" stroke="#000" stroke-width="0.65" />
<line x1="459.16" y1="393.7" x2="459.16" y2="396" stroke="#000" stroke-width="0.65" />
<line x1="464.67" y1="393.7" x2="464.67" y2="396" stroke="#000" stroke-width="0.65" />
<line x1="469.33" y1="393.7" x2="469.33" y2="396" stroke="#000" stroke-width="0.65" />
<line x1="473.36" y1="393.7" x2="473.36" y2="396" stroke="#000" stroke-width="0.65" />
<line x1="476.92" y1="393.7" x2="476.92" y2="396" stroke="#000" stroke-width="0.65" />
<line x1="480.1" y1="393.7" x2="480.1" y2="397.3" stroke="#000" stroke-width="0.7" />
<line x1="501.04" y1="393.7" x2="501.04" y2="396" stroke="#000" stroke-width="0.65" />
<line x1="513.28" y1="393.7" x2="513.28" y2="396" stroke="#000" stroke-width="0.65" />
<line x1="521.97" y1="393.7" x2="521.97" y2="396" stroke="#000" stroke-width="0.65" />
<line x1="528.71" y1="393.7" x2="528.71" y2="396" stroke="#000" stroke-width="0.65" />
<line x1="534.22" y1="393.7" x2="534.22" y2="396" stroke="#000" stroke-width="0.65" />
<line x1="538.88" y1="393.7" x2="538.88" y2="396" stroke="#000" stroke-width="0.65" />
<line x1="542.91" y1="393.7" x2="542.91" y2="396" stroke="#000" stroke-width="0.65" />
<line x1="546.47" y1="393.7" x2="546.47" y2="396" stroke="#000" stroke-width="0.65" />
<line x1="549.65" y1="393.7" x2="549.65" y2="397.3" stroke="#000" stroke-width="0.7" />
<text x="337.2" y="412.8" font-size="9.2" color="#000">10<tspan font-size="5.4" dy="-3.6">-3</tspan></text>
<text x="407.3" y="412.8" font-size="9.2" color="#000">10<tspan font-size="5.4" dy="-3.6">-2</tspan></text>
<text x="476.0" y="412.8" font-size="9.2" color="#000">10<tspan font-size="5.4" dy="-3.6">-1</tspan></text>
<text x="543.5" y="412.8" font-size="9.2" color="#000">10<tspan font-size="5.4" dy="-3.6">0</tspan></text>
<text x="445.3" y="428.2" font-size="9.5" color="#000" text-anchor="middle" font-weight="normal" >RPU</text>
<rect x="561.7" y="161.6" width="7.15" height="15.6" fill="#000" stroke="none" stroke-width="0.7" />
<line x1="558.3" y1="169.4" x2="561.7" y2="169.4" stroke="#000" stroke-width="0.7" />
<text transform="translate(580.2 169.4) rotate(90)" font-size="7.8" letter-spacing="1.1" text-anchor="middle" color="#000" style="stroke-width:.3px" font-weight="bold" x="0.55" y="3.92">**</text>
<rect x="561.7" y="184.84" width="8.59" height="15.6" fill="#000" stroke="none" stroke-width="0.7" />
<line x1="558.3" y1="192.64" x2="561.7" y2="192.64" stroke="#000" stroke-width="0.7" />
<text transform="translate(580.2 192.64) rotate(90)" font-size="7.8" letter-spacing="1.1" text-anchor="middle" color="#000" style="stroke-width:.3px" font-weight="bold" x="0.55" y="3.92">**</text>
<rect x="561.7" y="208.08" width="6.2" height="15.6" fill="#000" stroke="none" stroke-width="0.7" />
<line x1="558.3" y1="215.88" x2="561.7" y2="215.88" stroke="#000" stroke-width="0.7" />
<text transform="translate(580.2 215.88) rotate(90)" font-size="7.8" letter-spacing="1.1" text-anchor="middle" color="#000" style="stroke-width:.3px" font-weight="bold" x="0.55" y="3.92">**</text>
<rect x="561.7" y="231.32" width="1.91" height="15.6" fill="#000" stroke="none" stroke-width="0.7" />
<line x1="558.3" y1="239.12" x2="561.7" y2="239.12" stroke="#000" stroke-width="0.7" />
<text transform="translate(578 239.12) rotate(90)" font-size="7.6" text-anchor="middle" color="#000" y="1.9">ns</text>
<rect x="561.7" y="254.56" width="54.14" height="15.6" fill="#000" stroke="none" stroke-width="0.7" />
<line x1="558.3" y1="262.36" x2="561.7" y2="262.36" stroke="#000" stroke-width="0.7" />
<text transform="translate(627 262.36) rotate(90)" font-size="7.8" letter-spacing="1.1" text-anchor="middle" color="#000" style="stroke-width:.3px" font-weight="bold" x="0.55" y="3.92">**</text>
<rect x="561.7" y="277.8" width="26.71" height="15.6" fill="#000" stroke="none" stroke-width="0.7" />
<line x1="558.3" y1="285.6" x2="561.7" y2="285.6" stroke="#000" stroke-width="0.7" />
<text transform="translate(627 285.6) rotate(90)" font-size="7.8" letter-spacing="1.1" text-anchor="middle" color="#000" style="stroke-width:.3px" font-weight="bold" x="0.55" y="3.92">***</text>
<rect x="561.7" y="301.04" width="27.43" height="15.6" fill="#000" stroke="none" stroke-width="0.7" />
<line x1="558.3" y1="308.84" x2="561.7" y2="308.84" stroke="#000" stroke-width="0.7" />
<text transform="translate(627 308.84) rotate(90)" font-size="7.8" letter-spacing="1.1" text-anchor="middle" color="#000" style="stroke-width:.3px" font-weight="bold" x="0.55" y="3.92">****</text>
<rect x="561.7" y="324.28" width="56.29" height="15.6" fill="#000" stroke="none" stroke-width="0.7" />
<line x1="558.3" y1="332.08" x2="561.7" y2="332.08" stroke="#000" stroke-width="0.7" />
<text transform="translate(627 332.08) rotate(90)" font-size="7.8" letter-spacing="1.1" text-anchor="middle" color="#000" style="stroke-width:.3px" font-weight="bold" x="0.55" y="3.92">**</text>
<rect x="561.7" y="347.52" width="70.12" height="15.6" fill="#000" stroke="none" stroke-width="0.7" />
<line x1="558.3" y1="355.32" x2="561.7" y2="355.32" stroke="#000" stroke-width="0.7" />
<text transform="translate(637.3 355.32) rotate(90)" font-size="7.8" letter-spacing="1.1" text-anchor="middle" color="#000" style="stroke-width:.3px" font-weight="bold" x="0.55" y="3.92">***</text>
<rect x="561.7" y="370.76" width="81.09" height="15.6" fill="#000" stroke="none" stroke-width="0.7" />
<line x1="558.3" y1="378.56" x2="561.7" y2="378.56" stroke="#000" stroke-width="0.7" />
<text transform="translate(648.3 378.56) rotate(90)" font-size="7.8" letter-spacing="1.1" text-anchor="middle" color="#000" style="stroke-width:.3px" font-weight="bold" x="0.55" y="3.92">***</text>
<line x1="561.7" y1="393.7" x2="561.7" y2="399.9" stroke="#000" stroke-width="0.7" />
<line x1="585.55" y1="393.7" x2="585.55" y2="399.9" stroke="#000" stroke-width="0.7" />
<text x="584.55" y="412.7" font-size="9.2" color="#000" text-anchor="middle" font-weight="normal" >10</text>
<line x1="609.4" y1="393.7" x2="609.4" y2="399.9" stroke="#000" stroke-width="0.7" />
<text x="608.4" y="412.7" font-size="9.2" color="#000" text-anchor="middle" font-weight="normal" >20</text>
<line x1="633.25" y1="393.7" x2="633.25" y2="399.9" stroke="#000" stroke-width="0.7" />
<text x="632.25" y="412.7" font-size="9.2" color="#000" text-anchor="middle" font-weight="normal" >30</text>
<line x1="657.1" y1="393.7" x2="657.1" y2="399.9" stroke="#000" stroke-width="0.7" />
<text x="656.1" y="412.7" font-size="9.2" color="#000" text-anchor="middle" font-weight="normal" >40</text>
<text x="620" y="428.2" font-size="9.4" color="#000" text-anchor="middle" font-weight="normal" >Fold repression</text>
<text x="2.8" y="454.2" font-size="15.6" color="#231815" text-anchor="start" font-weight="bold" >d</text>
<line x1="54" y1="473.5" x2="215.8" y2="473.5" stroke="#231815" stroke-width="0.85" />
<line x1="54" y1="468.1" x2="54" y2="478.9" stroke="#231815" stroke-width="0.7" />
<line x1="96" y1="469.8" x2="96" y2="479.4" stroke="#231815" stroke-width="0.7" />
<line x1="105.4" y1="469.8" x2="105.4" y2="479.4" stroke="#231815" stroke-width="0.7" />
<line x1="157.9" y1="469.8" x2="157.9" y2="479.4" stroke="#231815" stroke-width="0.7" />
<rect x="110.05" y="465.05" width="9.7" height="8.45" fill="#fff" stroke="#ee8c62" stroke-width="0.9" />
<rect x="132.05" y="465.05" width="9.6" height="8.45" fill="#fff" stroke="#ee8c62" stroke-width="0.9" />
<rect x="146.05" y="465.05" width="9.6" height="8.45" fill="#fff" stroke="#ee8c62" stroke-width="0.9" />
<rect x="171.45" y="465.05" width="10" height="8.45" fill="#fff" stroke="#5b86c9" stroke-width="0.9" />
<rect x="160.2" y="464.6" width="10.8" height="9.1" fill="#e84fa3" stroke="none" stroke-width="0.7" />
<rect x="181.9" y="464.6" width="10.7" height="9.1" fill="#e84fa3" stroke="none" stroke-width="0.7" />
<line x1="96" y1="473.5" x2="96" y2="479.4" stroke="#231815" stroke-width="0.7" />
<line x1="105.4" y1="473.5" x2="105.4" y2="479.4" stroke="#231815" stroke-width="0.7" />
<line x1="157.9" y1="473.5" x2="157.9" y2="479.4" stroke="#231815" stroke-width="0.7" />
<path d="M194.7 476.1V466.2H205.9" stroke="#231815" stroke-width="0.7" fill="none" />
<polygon points="208.9,466.2 203.9,463.7 205.15,466.2 203.9,468.7" fill="#231815" stroke="none" stroke-width="0.5"/>
<text x="14.6" y="475.2" font-size="9.7" color="#231815">P<tspan font-size="5.5" dx="-0.2" dy="3.25">LmrRe45</tspan></text>
<line x1="54" y1="506.5" x2="215.8" y2="506.5" stroke="#231815" stroke-width="0.85" />
<line x1="54" y1="501.1" x2="54" y2="511.9" stroke="#231815" stroke-width="0.7" />
<line x1="96" y1="502.8" x2="96" y2="512.4" stroke="#231815" stroke-width="0.7" />
<line x1="105.4" y1="502.8" x2="105.4" y2="512.4" stroke="#231815" stroke-width="0.7" />
<line x1="157.9" y1="502.8" x2="157.9" y2="512.4" stroke="#231815" stroke-width="0.7" />
<rect x="110.05" y="498.05" width="9.7" height="8.45" fill="#fff" stroke="#ee8c62" stroke-width="0.9" />
<rect x="132.05" y="498.05" width="9.6" height="8.45" fill="#fff" stroke="#ee8c62" stroke-width="0.9" />
<rect x="146.05" y="498.05" width="9.6" height="8.45" fill="#fff" stroke="#ee8c62" stroke-width="0.9" />
<rect x="171.45" y="498.05" width="10" height="8.45" fill="#fff" stroke="#5b86c9" stroke-width="0.9" />
<rect x="181.9" y="497.6" width="10.7" height="9.1" fill="#e84fa3" stroke="none" stroke-width="0.7" />
<line x1="96" y1="506.5" x2="96" y2="512.4" stroke="#231815" stroke-width="0.7" />
<line x1="105.4" y1="506.5" x2="105.4" y2="512.4" stroke="#231815" stroke-width="0.7" />
<line x1="157.9" y1="506.5" x2="157.9" y2="512.4" stroke="#231815" stroke-width="0.7" />
<path d="M194.7 509.1V499.2H205.9" stroke="#231815" stroke-width="0.7" fill="none" />
<polygon points="208.9,499.2 203.9,496.7 205.15,499.2 203.9,501.7" fill="#231815" stroke="none" stroke-width="0.5"/>
<text x="14.6" y="506.4" font-size="9.7" color="#231815">P<tspan font-size="5.5" dx="-0.2" dy="3.25">PhlFRe5</tspan></text>
<line x1="54" y1="539.5" x2="215.8" y2="539.5" stroke="#231815" stroke-width="0.85" />
<line x1="54" y1="534.1" x2="54" y2="544.9" stroke="#231815" stroke-width="0.7" />
<line x1="96" y1="535.8" x2="96" y2="545.4" stroke="#231815" stroke-width="0.7" />
<line x1="105.4" y1="535.8" x2="105.4" y2="545.4" stroke="#231815" stroke-width="0.7" />
<line x1="157.9" y1="535.8" x2="157.9" y2="545.4" stroke="#231815" stroke-width="0.7" />
<rect x="110.05" y="531.05" width="9.7" height="8.45" fill="#fff" stroke="#ee8c62" stroke-width="0.9" />
<rect x="132.05" y="531.05" width="9.6" height="8.45" fill="#fff" stroke="#ee8c62" stroke-width="0.9" />
<rect x="146.05" y="531.05" width="9.6" height="8.45" fill="#fff" stroke="#ee8c62" stroke-width="0.9" />
<rect x="171.45" y="531.05" width="10" height="8.45" fill="#fff" stroke="#5b86c9" stroke-width="0.9" />
<rect x="75" y="530.6" width="10.8" height="9.1" fill="#e84fa3" stroke="none" stroke-width="0.7" />
<rect x="181.9" y="530.6" width="10.7" height="9.1" fill="#e84fa3" stroke="none" stroke-width="0.7" />
<line x1="96" y1="539.5" x2="96" y2="545.4" stroke="#231815" stroke-width="0.7" />
<line x1="105.4" y1="539.5" x2="105.4" y2="545.4" stroke="#231815" stroke-width="0.7" />
<line x1="157.9" y1="539.5" x2="157.9" y2="545.4" stroke="#231815" stroke-width="0.7" />
<path d="M194.7 542.1V532.2H205.9" stroke="#231815" stroke-width="0.7" fill="none" />
<polygon points="208.9,532.2 203.9,529.7 205.15,532.2 203.9,534.7" fill="#231815" stroke="none" stroke-width="0.5"/>
<text x="14.6" y="538.9" font-size="9.7" color="#231815">P<tspan font-size="5.5" dx="-0.2" dy="3.25">IcaRe15</tspan></text>
<line x1="54" y1="572.5" x2="215.8" y2="572.5" stroke="#231815" stroke-width="0.85" />
<line x1="54" y1="567.1" x2="54" y2="577.9" stroke="#231815" stroke-width="0.7" />
<line x1="96" y1="568.8" x2="96" y2="578.4" stroke="#231815" stroke-width="0.7" />
<line x1="105.4" y1="568.8" x2="105.4" y2="578.4" stroke="#231815" stroke-width="0.7" />
<line x1="157.9" y1="568.8" x2="157.9" y2="578.4" stroke="#231815" stroke-width="0.7" />
<rect x="110.05" y="564.05" width="9.7" height="8.45" fill="#fff" stroke="#ee8c62" stroke-width="0.9" />
<rect x="132.05" y="564.05" width="9.6" height="8.45" fill="#fff" stroke="#ee8c62" stroke-width="0.9" />
<rect x="146.05" y="564.05" width="9.6" height="8.45" fill="#fff" stroke="#ee8c62" stroke-width="0.9" />
<rect x="171.45" y="564.05" width="10" height="8.45" fill="#fff" stroke="#5b86c9" stroke-width="0.9" />
<rect x="181.9" y="563.6" width="10.7" height="9.1" fill="#e84fa3" stroke="none" stroke-width="0.7" />
<line x1="96" y1="572.5" x2="96" y2="578.4" stroke="#231815" stroke-width="0.7" />
<line x1="105.4" y1="572.5" x2="105.4" y2="578.4" stroke="#231815" stroke-width="0.7" />
<line x1="157.9" y1="572.5" x2="157.9" y2="578.4" stroke="#231815" stroke-width="0.7" />
<path d="M194.7 575.1V565.2H205.9" stroke="#231815" stroke-width="0.7" fill="none" />
<polygon points="208.9,565.2 203.9,562.7 205.15,565.2 203.9,567.7" fill="#231815" stroke="none" stroke-width="0.5"/>
<text x="14.6" y="571.8" font-size="9.7" color="#231815">P<tspan font-size="5.5" dx="-0.2" dy="3.25">BM3Re5.1</tspan></text>
<line x1="54" y1="606.5" x2="215.8" y2="606.5" stroke="#231815" stroke-width="0.85" />
<line x1="54" y1="601.1" x2="54" y2="611.9" stroke="#231815" stroke-width="0.7" />
<line x1="96" y1="602.8" x2="96" y2="612.4" stroke="#231815" stroke-width="0.7" />
<line x1="105.4" y1="602.8" x2="105.4" y2="612.4" stroke="#231815" stroke-width="0.7" />
<line x1="157.9" y1="602.8" x2="157.9" y2="612.4" stroke="#231815" stroke-width="0.7" />
<rect x="110.05" y="598.05" width="9.7" height="8.45" fill="#fff" stroke="#ee8c62" stroke-width="0.9" />
<rect x="132.05" y="598.05" width="9.6" height="8.45" fill="#fff" stroke="#ee8c62" stroke-width="0.9" />
<rect x="146.05" y="598.05" width="9.6" height="8.45" fill="#fff" stroke="#ee8c62" stroke-width="0.9" />
<rect x="171.45" y="598.05" width="10" height="8.45" fill="#fff" stroke="#5b86c9" stroke-width="0.9" />
<rect x="75" y="597.6" width="10.8" height="9.1" fill="#e84fa3" stroke="none" stroke-width="0.7" />
<rect x="160.2" y="597.6" width="10.8" height="9.1" fill="#e84fa3" stroke="none" stroke-width="0.7" />
<line x1="96" y1="606.5" x2="96" y2="612.4" stroke="#231815" stroke-width="0.7" />
<line x1="105.4" y1="606.5" x2="105.4" y2="612.4" stroke="#231815" stroke-width="0.7" />
<line x1="157.9" y1="606.5" x2="157.9" y2="612.4" stroke="#231815" stroke-width="0.7" />
<path d="M194.7 609.1V599.2H205.9" stroke="#231815" stroke-width="0.7" fill="none" />
<polygon points="208.9,599.2 203.9,596.7 205.15,599.2 203.9,601.7" fill="#231815" stroke="none" stroke-width="0.5"/>
<text x="14.6" y="604.55" font-size="9.7" color="#231815">P<tspan font-size="5.5" dx="-0.2" dy="3.25">SrpRe14.1</tspan></text>
<line x1="54" y1="639.5" x2="215.8" y2="639.5" stroke="#231815" stroke-width="0.85" />
<line x1="54" y1="634.1" x2="54" y2="644.9" stroke="#231815" stroke-width="0.7" />
<line x1="96" y1="635.8" x2="96" y2="645.4" stroke="#231815" stroke-width="0.7" />
<line x1="105.4" y1="635.8" x2="105.4" y2="645.4" stroke="#231815" stroke-width="0.7" />
<line x1="157.9" y1="635.8" x2="157.9" y2="645.4" stroke="#231815" stroke-width="0.7" />
<rect x="110.05" y="631.05" width="9.7" height="8.45" fill="#fff" stroke="#ee8c62" stroke-width="0.9" />
<rect x="132.05" y="631.05" width="9.6" height="8.45" fill="#fff" stroke="#ee8c62" stroke-width="0.9" />
<rect x="146.05" y="631.05" width="9.6" height="8.45" fill="#fff" stroke="#ee8c62" stroke-width="0.9" />
<rect x="171.45" y="631.05" width="10" height="8.45" fill="#fff" stroke="#5b86c9" stroke-width="0.9" />
<rect x="181.9" y="630.6" width="10.7" height="9.1" fill="#e84fa3" stroke="none" stroke-width="0.7" />
<line x1="96" y1="639.5" x2="96" y2="645.4" stroke="#231815" stroke-width="0.7" />
<line x1="105.4" y1="639.5" x2="105.4" y2="645.4" stroke="#231815" stroke-width="0.7" />
<line x1="157.9" y1="639.5" x2="157.9" y2="645.4" stroke="#231815" stroke-width="0.7" />
<path d="M194.7 642.1V632.2H205.9" stroke="#231815" stroke-width="0.7" fill="none" />
<polygon points="208.9,632.2 203.9,629.7 205.15,632.2 203.9,634.7" fill="#231815" stroke="none" stroke-width="0.5"/>
<text x="14.6" y="636.9" font-size="9.7" color="#231815">P<tspan font-size="5.5" dx="-0.2" dy="3.25">BetRe5.1</tspan></text>
<rect x="283.5" y="429.7" width="13.3" height="6.4" fill="#000" stroke="none" stroke-width="0.7" />
<rect x="283.5" y="445.5" width="13.3" height="6.8" fill="#a9a9ac" stroke="none" stroke-width="0.7" />
<text x="305" y="436.2" font-size="9.2" color="#000" text-anchor="start" font-weight="normal" >−Repressor</text>
<text x="305" y="452.4" font-size="9.2" color="#000" text-anchor="start" font-weight="normal" >+Repressor</text>
<rect x="221.6" y="463.1" width="128.5" height="7.9" fill="#000" stroke="none" stroke-width="0.7" />
<rect x="221.6" y="475.4" width="74.8" height="7.9" fill="#a9a9ac" stroke="none" stroke-width="0.7" />
<line x1="348.7" y1="467.05" x2="352.7" y2="467.05" stroke="#000" stroke-width="0.45" />
<line x1="348.7" y1="465.85" x2="348.7" y2="468.25" stroke="#000" stroke-width="0.45" />
<line x1="352.7" y1="465.85" x2="352.7" y2="468.25" stroke="#000" stroke-width="0.45" />
<line x1="281.8" y1="479.35" x2="303.7" y2="479.35" stroke="#000" stroke-width="0.45" />
<line x1="281.8" y1="478.15" x2="281.8" y2="480.55" stroke="#000" stroke-width="0.45" />
<line x1="303.7" y1="478.15" x2="303.7" y2="480.55" stroke="#000" stroke-width="0.45" />
<circle cx="349.6" cy="464.75" r="1.25" fill="#fff" stroke="#000" stroke-width="0.45"/>
<circle cx="352.7" cy="467.25" r="1.25" fill="#fff" stroke="#000" stroke-width="0.45"/>
<circle cx="348.7" cy="469.45" r="1.25" fill="#fff" stroke="#000" stroke-width="0.45"/>
<circle cx="278.7" cy="479.35" r="1.25" fill="#fff" stroke="#000" stroke-width="0.45"/>
<circle cx="299.4" cy="479.35" r="1.25" fill="#fff" stroke="#000" stroke-width="0.45"/>
<circle cx="302.5" cy="479.35" r="1.25" fill="#fff" stroke="#000" stroke-width="0.45"/>
<line x1="219" y1="473.2" x2="221.6" y2="473.2" stroke="#000" stroke-width="0.7" />
<text transform="translate(351.6 479.5) rotate(90)" font-size="6.8" letter-spacing="1.3" text-anchor="middle" color="#000" style="stroke-width:.3px" font-weight="bold" x="0.65" y="3.41">***</text>
<rect x="221.6" y="496.1" width="132.4" height="7.9" fill="#000" stroke="none" stroke-width="0.7" />
<rect x="221.6" y="508.4" width="29.6" height="7.9" fill="#a9a9ac" stroke="none" stroke-width="0.7" />
<line x1="352.2" y1="500.05" x2="355.7" y2="500.05" stroke="#000" stroke-width="0.45" />
<line x1="352.2" y1="498.85" x2="352.2" y2="501.25" stroke="#000" stroke-width="0.45" />
<line x1="355.7" y1="498.85" x2="355.7" y2="501.25" stroke="#000" stroke-width="0.45" />
<line x1="250.5" y1="512.35" x2="252" y2="512.35" stroke="#000" stroke-width="0.45" />
<line x1="250.5" y1="511.15" x2="250.5" y2="513.55" stroke="#000" stroke-width="0.45" />
<line x1="252" y1="511.15" x2="252" y2="513.55" stroke="#000" stroke-width="0.45" />
<circle cx="354.5" cy="497.75" r="1.25" fill="#fff" stroke="#000" stroke-width="0.45"/>
<circle cx="355.7" cy="500.25" r="1.25" fill="#fff" stroke="#000" stroke-width="0.45"/>
<circle cx="352.2" cy="502.45" r="1.25" fill="#fff" stroke="#000" stroke-width="0.45"/>
<circle cx="251.5" cy="512.53" r="1.25" fill="#fff" stroke="#000" stroke-width="0.45"/>
<circle cx="252" cy="514.51" r="1.25" fill="#fff" stroke="#000" stroke-width="0.45"/>
<circle cx="249.4" cy="510.28" r="1.25" fill="#fff" stroke="#000" stroke-width="0.45"/>
<line x1="219" y1="506.2" x2="221.6" y2="506.2" stroke="#000" stroke-width="0.7" />
<text transform="translate(351.6 514.1) rotate(90)" font-size="6.8" letter-spacing="1.3" text-anchor="middle" color="#000" style="stroke-width:.3px" font-weight="bold" x="0.65" y="3.41">****</text>
<rect x="221.6" y="529.1" width="133.6" height="7.9" fill="#000" stroke="none" stroke-width="0.7" />
<rect x="221.6" y="541.4" width="111" height="7.9" fill="#a9a9ac" stroke="none" stroke-width="0.7" />
<line x1="350.8" y1="533.05" x2="356.6" y2="533.05" stroke="#000" stroke-width="0.45" />
<line x1="350.8" y1="531.85" x2="350.8" y2="534.25" stroke="#000" stroke-width="0.45" />
<line x1="356.6" y1="531.85" x2="356.6" y2="534.25" stroke="#000" stroke-width="0.45" />
<line x1="323.5" y1="545.35" x2="338.2" y2="545.35" stroke="#000" stroke-width="0.45" />
<line x1="323.5" y1="544.15" x2="323.5" y2="546.55" stroke="#000" stroke-width="0.45" />
<line x1="338.2" y1="544.15" x2="338.2" y2="546.55" stroke="#000" stroke-width="0.45" />
<circle cx="350.8" cy="530.75" r="1.25" fill="#fff" stroke="#000" stroke-width="0.45"/>
<circle cx="355.7" cy="533.25" r="1.25" fill="#fff" stroke="#000" stroke-width="0.45"/>
<circle cx="356.6" cy="535.45" r="1.25" fill="#fff" stroke="#000" stroke-width="0.45"/>
<circle cx="322.6" cy="545.35" r="1.25" fill="#fff" stroke="#000" stroke-width="0.45"/>
<circle cx="332" cy="545.35" r="1.25" fill="#fff" stroke="#000" stroke-width="0.45"/>
<circle cx="338.2" cy="545.35" r="1.25" fill="#fff" stroke="#000" stroke-width="0.45"/>
<line x1="219" y1="539.2" x2="221.6" y2="539.2" stroke="#000" stroke-width="0.7" />
<text transform="translate(351.6 547.2) rotate(90)" font-size="6.8" letter-spacing="1.3" text-anchor="middle" color="#000" style="stroke-width:.3px" font-weight="bold" x="0.65" y="3.41">**</text>
<rect x="221.6" y="562.1" width="140.6" height="7.9" fill="#000" stroke="none" stroke-width="0.7" />
<rect x="221.6" y="574.4" width="98.5" height="7.9" fill="#a9a9ac" stroke="none" stroke-width="0.7" />
<line x1="361" y1="566.05" x2="364.5" y2="566.05" stroke="#000" stroke-width="0.45" />
<line x1="361" y1="564.85" x2="361" y2="567.25" stroke="#000" stroke-width="0.45" />
<line x1="364.5" y1="564.85" x2="364.5" y2="567.25" stroke="#000" stroke-width="0.45" />
<line x1="319.5" y1="578.35" x2="322" y2="578.35" stroke="#000" stroke-width="0.45" />
<line x1="319.5" y1="577.15" x2="319.5" y2="579.55" stroke="#000" stroke-width="0.45" />
<line x1="322" y1="577.15" x2="322" y2="579.55" stroke="#000" stroke-width="0.45" />
<circle cx="361" cy="563.75" r="1.25" fill="#fff" stroke="#000" stroke-width="0.45"/>
<circle cx="364.5" cy="566.25" r="1.25" fill="#fff" stroke="#000" stroke-width="0.45"/>
<circle cx="361" cy="568.45" r="1.25" fill="#fff" stroke="#000" stroke-width="0.45"/>
<circle cx="319.8" cy="578.53" r="1.25" fill="#fff" stroke="#000" stroke-width="0.45"/>
<circle cx="322" cy="580.51" r="1.25" fill="#fff" stroke="#000" stroke-width="0.45"/>
<circle cx="319.8" cy="576.28" r="1.25" fill="#fff" stroke="#000" stroke-width="0.45"/>
<line x1="219" y1="572.2" x2="221.6" y2="572.2" stroke="#000" stroke-width="0.7" />
<text transform="translate(351.6 579.5) rotate(90)" font-size="6.8" letter-spacing="1.3" text-anchor="middle" color="#000" style="stroke-width:.3px" font-weight="bold" x="0.65" y="3.41">***</text>
<rect x="221.6" y="595.1" width="133.3" height="7.9" fill="#000" stroke="none" stroke-width="0.7" />
<rect x="221.6" y="607.4" width="85.9" height="7.9" fill="#a9a9ac" stroke="none" stroke-width="0.7" />
<line x1="352.6" y1="599.05" x2="359.3" y2="599.05" stroke="#000" stroke-width="0.45" />
<line x1="352.6" y1="597.85" x2="352.6" y2="600.25" stroke="#000" stroke-width="0.45" />
<line x1="359.3" y1="597.85" x2="359.3" y2="600.25" stroke="#000" stroke-width="0.45" />
<line x1="306.8" y1="611.35" x2="308.4" y2="611.35" stroke="#000" stroke-width="0.45" />
<line x1="306.8" y1="610.15" x2="306.8" y2="612.55" stroke="#000" stroke-width="0.45" />
<line x1="308.4" y1="610.15" x2="308.4" y2="612.55" stroke="#000" stroke-width="0.45" />
<circle cx="352.6" cy="596.75" r="1.25" fill="#fff" stroke="#000" stroke-width="0.45"/>
<circle cx="359.3" cy="599.25" r="1.25" fill="#fff" stroke="#000" stroke-width="0.45"/>
<circle cx="352.6" cy="601.45" r="1.25" fill="#fff" stroke="#000" stroke-width="0.45"/>
<circle cx="307.5" cy="611.53" r="1.25" fill="#fff" stroke="#000" stroke-width="0.45"/>
<circle cx="308.4" cy="613.51" r="1.25" fill="#fff" stroke="#000" stroke-width="0.45"/>
<circle cx="306.6" cy="609.28" r="1.25" fill="#fff" stroke="#000" stroke-width="0.45"/>
<line x1="219" y1="605.2" x2="221.6" y2="605.2" stroke="#000" stroke-width="0.7" />
<text transform="translate(351.6 612.4) rotate(90)" font-size="6.8" letter-spacing="1.3" text-anchor="middle" color="#000" style="stroke-width:.3px" font-weight="bold" x="0.65" y="3.41">***</text>
<rect x="221.6" y="628.1" width="140.7" height="7.9" fill="#000" stroke="none" stroke-width="0.7" />
<rect x="221.6" y="640.4" width="113.7" height="7.9" fill="#a9a9ac" stroke="none" stroke-width="0.7" />
<line x1="362.6" y1="632.05" x2="363.2" y2="632.05" stroke="#000" stroke-width="0.45" />
<line x1="362.6" y1="630.85" x2="362.6" y2="633.25" stroke="#000" stroke-width="0.45" />
<line x1="363.2" y1="630.85" x2="363.2" y2="633.25" stroke="#000" stroke-width="0.45" />
<line x1="333.5" y1="644.35" x2="336.5" y2="644.35" stroke="#000" stroke-width="0.45" />
<line x1="333.5" y1="643.15" x2="333.5" y2="645.55" stroke="#000" stroke-width="0.45" />
<line x1="336.5" y1="643.15" x2="336.5" y2="645.55" stroke="#000" stroke-width="0.45" />
<circle cx="362.8" cy="629.75" r="1.25" fill="#fff" stroke="#000" stroke-width="0.45"/>
<circle cx="363.2" cy="632.25" r="1.25" fill="#fff" stroke="#000" stroke-width="0.45"/>
<circle cx="362.6" cy="634.45" r="1.25" fill="#fff" stroke="#000" stroke-width="0.45"/>
<circle cx="334.7" cy="644.53" r="1.25" fill="#fff" stroke="#000" stroke-width="0.45"/>
<circle cx="333" cy="646.51" r="1.25" fill="#fff" stroke="#000" stroke-width="0.45"/>
<circle cx="336.5" cy="642.28" r="1.25" fill="#fff" stroke="#000" stroke-width="0.45"/>
<line x1="219" y1="638.2" x2="221.6" y2="638.2" stroke="#000" stroke-width="0.7" />
<text transform="translate(351.6 644.6) rotate(90)" font-size="6.8" letter-spacing="1.3" text-anchor="middle" color="#000" style="stroke-width:.3px" font-weight="bold" x="0.65" y="3.41">****</text>
<rect x="221.6" y="458.2" width="146.8" height="195.1" fill="none" stroke="#000" stroke-width="0.8" />
<line x1="221.6" y1="653.3" x2="221.6" y2="656.7" stroke="#000" stroke-width="0.7" />
<line x1="232.09" y1="653.3" x2="232.09" y2="655.3" stroke="#000" stroke-width="0.6" />
<line x1="238.23" y1="653.3" x2="238.23" y2="655.3" stroke="#000" stroke-width="0.6" />
<line x1="242.58" y1="653.3" x2="242.58" y2="655.3" stroke="#000" stroke-width="0.6" />
<line x1="245.96" y1="653.3" x2="245.96" y2="655.3" stroke="#000" stroke-width="0.6" />
<line x1="248.72" y1="653.3" x2="248.72" y2="655.3" stroke="#000" stroke-width="0.6" />
<line x1="251.05" y1="653.3" x2="251.05" y2="655.3" stroke="#000" stroke-width="0.6" />
<line x1="253.07" y1="653.3" x2="253.07" y2="655.3" stroke="#000" stroke-width="0.6" />
<line x1="254.86" y1="653.3" x2="254.86" y2="655.3" stroke="#000" stroke-width="0.6" />
<line x1="256.45" y1="653.3" x2="256.45" y2="655.9" stroke="#000" stroke-width="0.6" />
<line x1="266.94" y1="653.3" x2="266.94" y2="655.3" stroke="#000" stroke-width="0.6" />
<line x1="273.08" y1="653.3" x2="273.08" y2="655.3" stroke="#000" stroke-width="0.6" />
<line x1="277.43" y1="653.3" x2="277.43" y2="655.3" stroke="#000" stroke-width="0.6" />
<line x1="280.81" y1="653.3" x2="280.81" y2="655.3" stroke="#000" stroke-width="0.6" />
<line x1="283.57" y1="653.3" x2="283.57" y2="655.3" stroke="#000" stroke-width="0.6" />
<line x1="285.9" y1="653.3" x2="285.9" y2="655.3" stroke="#000" stroke-width="0.6" />
<line x1="287.92" y1="653.3" x2="287.92" y2="655.3" stroke="#000" stroke-width="0.6" />
<line x1="289.71" y1="653.3" x2="289.71" y2="655.3" stroke="#000" stroke-width="0.6" />
<line x1="291.3" y1="653.3" x2="291.3" y2="656.7" stroke="#000" stroke-width="0.7" />
<line x1="301.79" y1="653.3" x2="301.79" y2="655.3" stroke="#000" stroke-width="0.6" />
<line x1="307.93" y1="653.3" x2="307.93" y2="655.3" stroke="#000" stroke-width="0.6" />
<line x1="312.28" y1="653.3" x2="312.28" y2="655.3" stroke="#000" stroke-width="0.6" />
<line x1="315.66" y1="653.3" x2="315.66" y2="655.3" stroke="#000" stroke-width="0.6" />
<line x1="318.42" y1="653.3" x2="318.42" y2="655.3" stroke="#000" stroke-width="0.6" />
<line x1="320.75" y1="653.3" x2="320.75" y2="655.3" stroke="#000" stroke-width="0.6" />
<line x1="322.77" y1="653.3" x2="322.77" y2="655.3" stroke="#000" stroke-width="0.6" />
<line x1="324.56" y1="653.3" x2="324.56" y2="655.3" stroke="#000" stroke-width="0.6" />
<line x1="326.15" y1="653.3" x2="326.15" y2="655.9" stroke="#000" stroke-width="0.6" />
<line x1="336.64" y1="653.3" x2="336.64" y2="655.3" stroke="#000" stroke-width="0.6" />
<line x1="342.78" y1="653.3" x2="342.78" y2="655.3" stroke="#000" stroke-width="0.6" />
<line x1="347.13" y1="653.3" x2="347.13" y2="655.3" stroke="#000" stroke-width="0.6" />
<line x1="350.51" y1="653.3" x2="350.51" y2="655.3" stroke="#000" stroke-width="0.6" />
<line x1="353.27" y1="653.3" x2="353.27" y2="655.3" stroke="#000" stroke-width="0.6" />
<line x1="355.6" y1="653.3" x2="355.6" y2="655.3" stroke="#000" stroke-width="0.6" />
<line x1="357.62" y1="653.3" x2="357.62" y2="655.3" stroke="#000" stroke-width="0.6" />
<line x1="359.41" y1="653.3" x2="359.41" y2="655.3" stroke="#000" stroke-width="0.6" />
<line x1="361" y1="653.3" x2="361" y2="656.7" stroke="#000" stroke-width="0.7" />
<text x="217.6" y="667.9" font-size="7.9" color="#000">10<tspan font-size="5.0" dy="-2.9">-4</tspan></text>
<text x="285.2" y="667.9" font-size="7.9" color="#000">10<tspan font-size="5.0" dy="-2.9">-2</tspan></text>
<text x="358.4" y="667.9" font-size="7.9" color="#000">10<tspan font-size="5.0" dy="-2.9">0</tspan></text>
<text x="298" y="679.4" font-size="9.0" color="#000" text-anchor="middle" font-weight="normal" >RPU</text>
<text x="387.1" y="453.3" font-size="15.6" color="#231815" text-anchor="start" font-weight="bold" >e</text>
<rect x="440.5" y="476.2" width="32.4" height="30.3" fill="#17306b" stroke="none" stroke-width="0.7" />
<rect x="472.6" y="476.2" width="32.4" height="30.3" fill="#e7edf6" stroke="none" stroke-width="0.7" />
<rect x="504.7" y="476.2" width="32.4" height="30.3" fill="#dbe5f1" stroke="none" stroke-width="0.7" />
<rect x="536.8" y="476.2" width="32.4" height="30.3" fill="#eef2f9" stroke="none" stroke-width="0.7" />
<rect x="568.9" y="476.2" width="32.4" height="30.3" fill="#eaeff7" stroke="none" stroke-width="0.7" />
<rect x="601" y="476.2" width="32.4" height="30.3" fill="#e8eef6" stroke="none" stroke-width="0.7" />
<rect x="440.5" y="506.2" width="32.4" height="30.3" fill="#eff4fa" stroke="none" stroke-width="0.7" />
<rect x="472.6" y="506.2" width="32.4" height="30.3" fill="#15539c" stroke="none" stroke-width="0.7" />
<rect x="504.7" y="506.2" width="32.4" height="30.3" fill="#e6edf6" stroke="none" stroke-width="0.7" />
<rect x="536.8" y="506.2" width="32.4" height="30.3" fill="#fcfdfe" stroke="none" stroke-width="0.7" />
<rect x="568.9" y="506.2" width="32.4" height="30.3" fill="#fafbfd" stroke="none" stroke-width="0.7" />
<rect x="601" y="506.2" width="32.4" height="30.3" fill="#fafbfd" stroke="none" stroke-width="0.7" />
<rect x="440.5" y="536.2" width="32.4" height="30.3" fill="#e3ebf5" stroke="none" stroke-width="0.7" />
<rect x="472.6" y="536.2" width="32.4" height="30.3" fill="#ffffff" stroke="none" stroke-width="0.7" />
<rect x="504.7" y="536.2" width="32.4" height="30.3" fill="#7097c5" stroke="none" stroke-width="0.7" />
<rect x="536.8" y="536.2" width="32.4" height="30.3" fill="#fbfcfe" stroke="none" stroke-width="0.7" />
<rect x="568.9" y="536.2" width="32.4" height="30.3" fill="#fafbfd" stroke="none" stroke-width="0.7" />
<rect x="601" y="536.2" width="32.4" height="30.3" fill="#fbfcfe" stroke="none" stroke-width="0.7" />
<rect x="440.5" y="566.2" width="32.4" height="30.3" fill="#eaeff8" stroke="none" stroke-width="0.7" />
<rect x="472.6" y="566.2" width="32.4" height="30.3" fill="#e4ebf5" stroke="none" stroke-width="0.7" />
<rect x="504.7" y="566.2" width="32.4" height="30.3" fill="#eef2f9" stroke="none" stroke-width="0.7" />
<rect x="536.8" y="566.2" width="32.4" height="30.3" fill="#2461a8" stroke="none" stroke-width="0.7" />
<rect x="568.9" y="566.2" width="32.4" height="30.3" fill="#edf2f8" stroke="none" stroke-width="0.7" />
<rect x="601" y="566.2" width="32.4" height="30.3" fill="#f6f8fc" stroke="none" stroke-width="0.7" />
<rect x="440.5" y="596.2" width="32.4" height="30.3" fill="#f1f5fa" stroke="none" stroke-width="0.7" />
<rect x="472.6" y="596.2" width="32.4" height="30.3" fill="#f9fbfd" stroke="none" stroke-width="0.7" />
<rect x="504.7" y="596.2" width="32.4" height="30.3" fill="#fafbfd" stroke="none" stroke-width="0.7" />
<rect x="536.8" y="596.2" width="32.4" height="30.3" fill="#ffffff" stroke="none" stroke-width="0.7" />
<rect x="568.9" y="596.2" width="32.4" height="30.3" fill="#c9d9ea" stroke="none" stroke-width="0.7" />
<rect x="601" y="596.2" width="32.4" height="30.3" fill="#f8fafd" stroke="none" stroke-width="0.7" />
<rect x="440.5" y="626.2" width="32.4" height="30.3" fill="#f8fafd" stroke="none" stroke-width="0.7" />
<rect x="472.6" y="626.2" width="32.4" height="30.3" fill="#fbfcfe" stroke="none" stroke-width="0.7" />
<rect x="504.7" y="626.2" width="32.4" height="30.3" fill="#f8fafd" stroke="none" stroke-width="0.7" />
<rect x="536.8" y="626.2" width="32.4" height="30.3" fill="#f9fbfd" stroke="none" stroke-width="0.7" />
<rect x="568.9" y="626.2" width="32.4" height="30.3" fill="#fbfcfe" stroke="none" stroke-width="0.7" />
<rect x="601" y="626.2" width="32.4" height="30.3" fill="#dfe8f3" stroke="none" stroke-width="0.7" />
<rect x="440.5" y="476.2" width="192.6" height="180" fill="none" stroke="#000" stroke-width="0.8" />
<line x1="455.7" y1="476.2" x2="455.7" y2="472.8" stroke="#000" stroke-width="0.7" />
<text x="456" y="468" font-size="9.3" color="#000" text-anchor="middle" font-weight="normal" >PhlF</text>
<line x1="488.4" y1="476.2" x2="488.4" y2="472.8" stroke="#000" stroke-width="0.7" />
<text x="487.5" y="468" font-size="9.3" color="#000" text-anchor="middle" font-weight="normal" >LmrA</text>
<line x1="520.6" y1="476.2" x2="520.6" y2="472.8" stroke="#000" stroke-width="0.7" />
<text x="526.3" y="468" font-size="9.3" color="#000" text-anchor="middle" font-weight="normal" >BM3R1</text>
<line x1="553.6" y1="476.2" x2="553.6" y2="472.8" stroke="#000" stroke-width="0.7" />
<text x="560.9" y="468" font-size="9.3" color="#000" text-anchor="middle" font-weight="normal" >SrpR</text>
<line x1="585.7" y1="476.2" x2="585.7" y2="472.8" stroke="#000" stroke-width="0.7" />
<text x="589.9" y="468" font-size="9.3" color="#000" text-anchor="middle" font-weight="normal" >BetI</text>
<line x1="618.5" y1="476.2" x2="618.5" y2="472.8" stroke="#000" stroke-width="0.7" />
<text x="621.4" y="468" font-size="9.3" color="#000" text-anchor="middle" font-weight="normal" >IcaR</text>
<line x1="440.5" y1="491.2" x2="436.9" y2="491.2" stroke="#000" stroke-width="0.7" />
<text x="432.8" y="494.2" font-size="9.3" color="#000" text-anchor="end" font-weight="normal" >PhlFRe5</text>
<line x1="440.5" y1="521.2" x2="436.9" y2="521.2" stroke="#000" stroke-width="0.7" />
<text x="432.8" y="524.2" font-size="9.3" color="#000" text-anchor="end" font-weight="normal" >LmrRe45</text>
<line x1="440.5" y1="551.2" x2="436.9" y2="551.2" stroke="#000" stroke-width="0.7" />
<text x="432.8" y="554.2" font-size="9.3" color="#000" text-anchor="end" font-weight="normal" >BM3Re5.1</text>
<line x1="440.5" y1="581.2" x2="436.9" y2="581.2" stroke="#000" stroke-width="0.7" />
<text x="432.8" y="584.2" font-size="9.3" color="#000" text-anchor="end" font-weight="normal" >SrpRe14.1</text>
<line x1="440.5" y1="611.2" x2="436.9" y2="611.2" stroke="#000" stroke-width="0.7" />
<text x="432.8" y="614.2" font-size="9.3" color="#000" text-anchor="end" font-weight="normal" >BetRe5.1</text>
<line x1="440.5" y1="641.2" x2="436.9" y2="641.2" stroke="#000" stroke-width="0.7" />
<text x="432.8" y="644.2" font-size="9.3" color="#000" text-anchor="end" font-weight="normal" >IcaRe15</text>
<rect x="640.6" y="476.7" width="8.4" height="8.7" fill="#1b2f6c" stroke="#222" stroke-width="0.8" />
<line x1="649" y1="481" x2="651.4" y2="481" stroke="#000" stroke-width="0.7" />
<text x="655.8" y="484.2" font-size="9.1" color="#000" text-anchor="start" font-weight="normal" >847</text>
<defs><linearGradient id="cb" x1="0" y1="0" x2="0" y2="1"><stop offset="0" stop-color="#17579f"/><stop offset="0.21" stop-color="#3e74b3"/><stop offset="0.42" stop-color="#6b95c6"/><stop offset="0.63" stop-color="#a4bedc"/><stop offset="0.83" stop-color="#dbe5f1"/><stop offset="1" stop-color="#ffffff"/></linearGradient></defs>
<rect x="640.6" y="495.9" width="8.4" height="160.4" fill="url(#cb)" stroke="#222" stroke-width="0.8" />
<line x1="649" y1="495.9" x2="651.6" y2="495.9" stroke="#000" stroke-width="0.8" />
<text x="656.4" y="499.1" font-size="9.1" color="#000" text-anchor="start" font-weight="normal" >25</text>
<line x1="649" y1="529.75" x2="651.6" y2="529.75" stroke="#000" stroke-width="0.8" />
<text x="656.4" y="532.95" font-size="9.1" color="#000" text-anchor="start" font-weight="normal" >20</text>
<line x1="649" y1="563.6" x2="651.6" y2="563.6" stroke="#000" stroke-width="0.8" />
<text x="656.4" y="566.8" font-size="9.1" color="#000" text-anchor="start" font-weight="normal" >15</text>
<line x1="649" y1="597.45" x2="651.6" y2="597.45" stroke="#000" stroke-width="0.8" />
<text x="656.4" y="600.65" font-size="9.1" color="#000" text-anchor="start" font-weight="normal" >10</text>
<line x1="649" y1="631.3" x2="651.6" y2="631.3" stroke="#000" stroke-width="0.8" />
<text x="656.4" y="634.5" font-size="9.1" color="#000" text-anchor="start" font-weight="normal" >5</text>
<text x="656.4" y="656.8" font-size="9.1" color="#000" text-anchor="start" font-weight="normal" >1</text>
<text transform="translate(677.9 565.4) rotate(90)" font-size="9.2" text-anchor="middle" color="#000">Fold repression</text>
</svg>
</body></html>
